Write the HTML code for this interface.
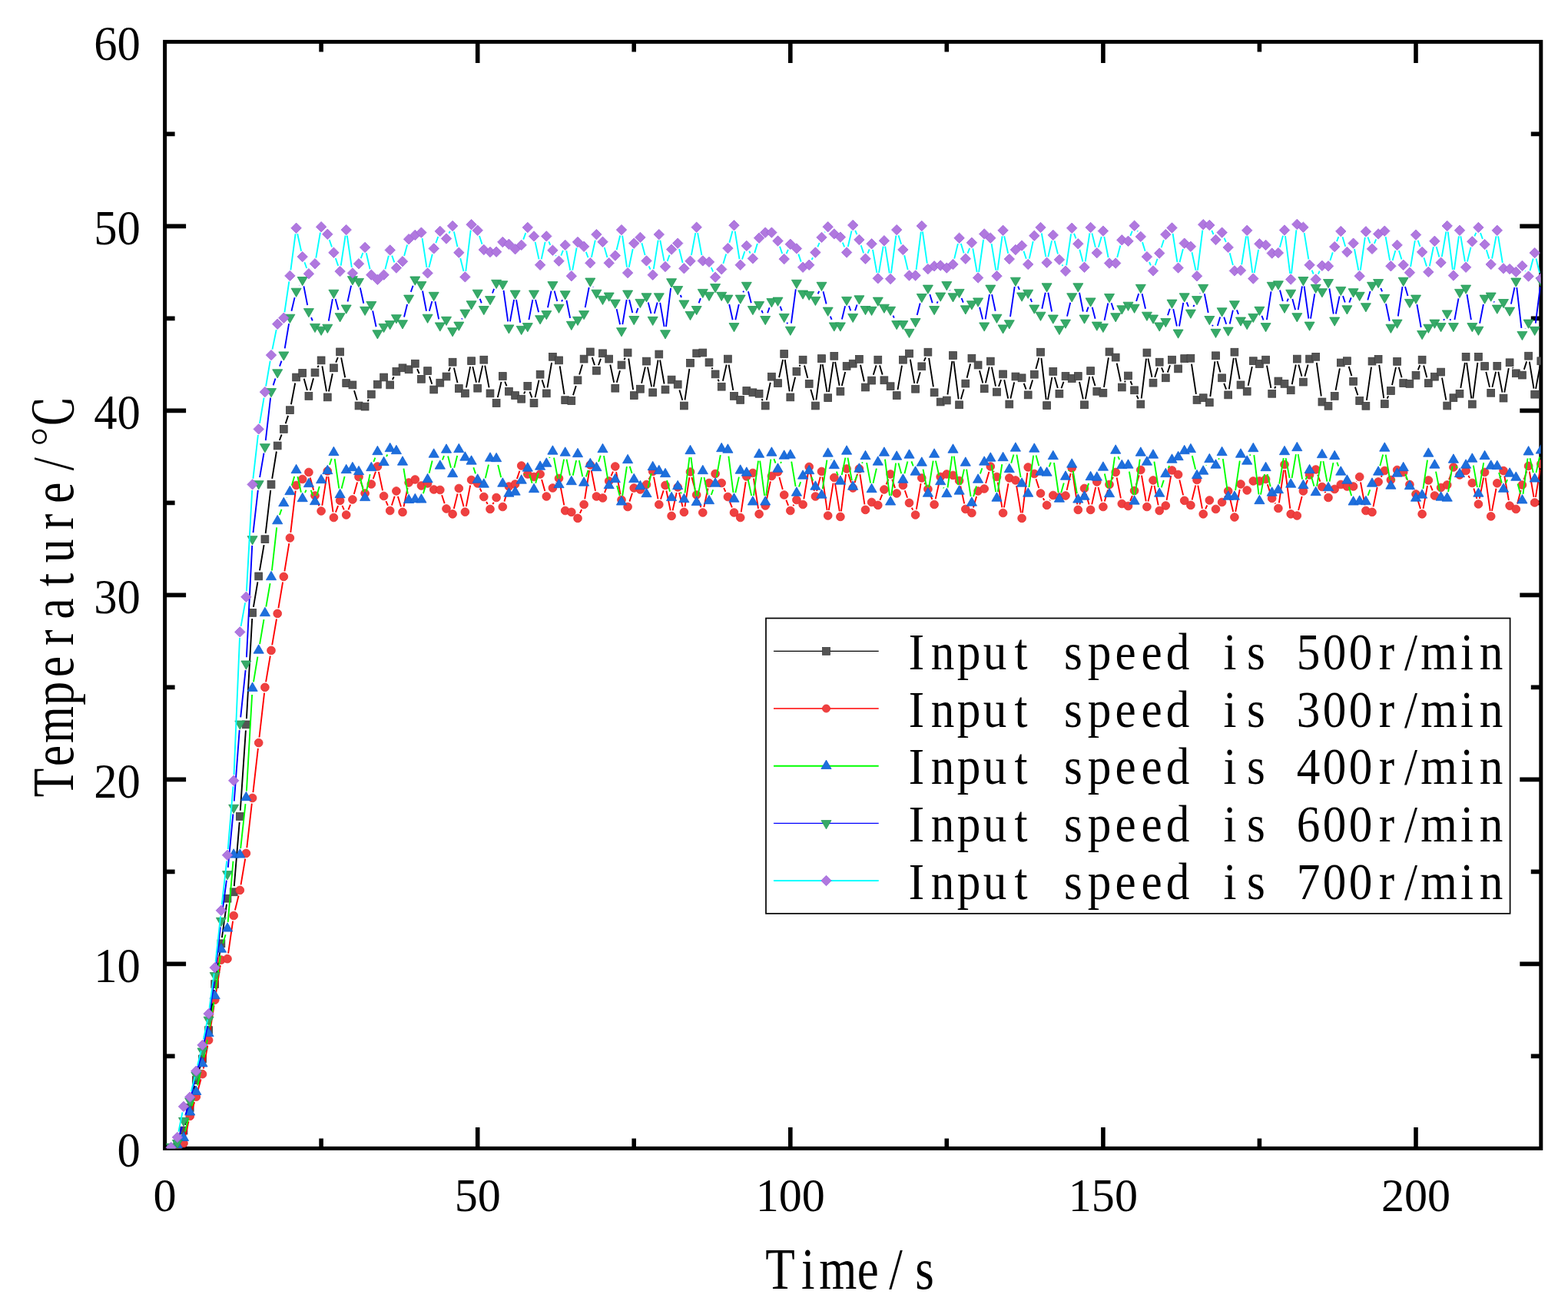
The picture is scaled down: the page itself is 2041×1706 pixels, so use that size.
<!DOCTYPE html>
<html><head><meta charset="utf-8"><title>Temperature vs Time</title>
<style>html,body{margin:0;padding:0;background:#fff;}svg{display:block;}</style>
</head><body>
<svg width="2041" height="1706" viewBox="0 0 2041 1706"><rect x="214.6" y="54.4" width="1791.2" height="1440.0" fill="none" stroke="#000" stroke-width="5"/>
<path d="M418.1 1494.4V1481.4M418.1 54.40000000000009V67.40000000000009M621.7 1494.4V1466.9M621.7 54.40000000000009V81.90000000000009M825.2 1494.4V1481.4M825.2 54.40000000000009V67.40000000000009M1028.8 1494.4V1466.9M1028.8 54.40000000000009V81.90000000000009M1232.3 1494.4V1481.4M1232.3 54.40000000000009V67.40000000000009M1435.9 1494.4V1466.9M1435.9 54.40000000000009V81.90000000000009M1639.4 1494.4V1481.4M1639.4 54.40000000000009V67.40000000000009M1843.0 1494.4V1466.9M1843.0 54.40000000000009V81.90000000000009M214.6 1374.4H227.6M2005.8 1374.4H1992.8M214.6 1254.4H242.1M2005.8 1254.4H1978.3M214.6 1134.4H227.6M2005.8 1134.4H1992.8M214.6 1014.4H242.1M2005.8 1014.4H1978.3M214.6 894.4H227.6M2005.8 894.4H1992.8M214.6 774.4H242.1M2005.8 774.4H1978.3M214.6 654.4H227.6M2005.8 654.4H1992.8M214.6 534.4H242.1M2005.8 534.4H1978.3M214.6 414.4H227.6M2005.8 414.4H1992.8M214.6 294.4H242.1M2005.8 294.4H1978.3M214.6 174.4H227.6M2005.8 174.4H1992.8" stroke="#000" stroke-width="5.6" fill="none"/>
<defs><clipPath id="pc"><rect x="214.6" y="54.5" width="1791" height="1440"/></clipPath></defs>
<g clip-path="url(#pc)">
<path d="M233.9 1482.6L236.0 1478.1M241.0 1463.8L245.1 1448.9M248.8 1434.2L253.6 1413.0M257.5 1398.3L261.3 1385.3M265.1 1370.6L270.0 1348.0M272.6 1333.0L278.7 1288.1M280.9 1273.0L286.7 1235.3M288.9 1220.2L295.0 1176.7M304.8 1153.2L311.7 1070.0M312.8 1054.8L319.9 950.5M320.9 935.3L328.2 805.0M329.9 789.9L335.4 757.4M338.0 742.4L343.6 709.2M345.7 694.1L352.2 638.0M354.2 622.9L359.9 587.5M363.8 572.9L366.6 565.5M371.7 551.2L375.1 540.9M378.9 526.2L384.2 498.5M395.7 492.7L399.9 508.1M403.8 508.0L408.0 492.3M413.5 478.1L414.7 475.7M419.4 476.4L425.0 509.4M427.9 509.5L432.8 486.2M437.2 471.7L439.8 465.0M444.1 465.4L449.2 491.2M461.0 508.2L464.8 520.8M478.6 522.3L479.8 519.9M487.3 506.7L487.4 506.6M510.9 494.0L512.7 490.3M543.1 480.2L545.6 486.2M559.0 489.8L562.3 499.8M584.0 483.0L586.1 478.2M590.9 478.6L595.5 498.1M606.9 504.4L612.1 477.1M615.3 477.1L620.0 497.8M623.3 497.7L628.2 475.6M631.2 475.6L636.6 504.4M647.8 517.1L652.5 496.9M657.2 496.5L659.5 502.3M682.0 512.3L683.5 509.3M689.5 509.6L692.4 517.4M696.6 517.1L701.5 494.6M705.5 494.4L708.9 504.7M712.5 504.4L718.1 471.8M728.7 476.4L734.5 513.2M746.0 514.2L749.8 502.1M754.1 487.5L758.0 474.4M770.7 465.1L774.0 475.1M779.0 475.2L782.0 466.9M794.3 474.5L799.2 497.7M802.8 497.8L807.0 482.3M812.4 468.2L813.7 465.8M818.2 466.5L824.1 507.1M835.1 498.8L839.9 477.5M843.0 477.6L848.2 503.4M850.9 503.3L856.6 468.5M859.1 468.5L864.6 499.5M870.0 500.6L870.1 500.5M884.4 507.4L888.3 520.7M891.5 520.5L897.4 479.8M926.5 478.4L927.5 480.2M934.5 493.7L935.8 496.4M940.9 495.8L945.7 474.5M948.6 474.6L954.3 507.9M991.6 519.1L992.7 521.3M997.8 520.6L1002.8 497.7M1014.1 491.2L1019.1 468.0M1021.7 468.0L1027.7 509.4M1030.6 509.5L1035.1 490.8M1040.5 476.7L1041.5 474.9M1047.0 475.5L1051.3 492.0M1055.3 506.7L1059.3 520.7M1062.4 520.5L1068.5 474.2M1070.7 474.1L1076.5 510.2M1078.8 510.2L1084.7 470.8M1087.1 470.8L1092.6 501.8M1095.8 501.9L1100.2 483.9M1120.0 474.8L1124.9 496.5M1136.8 487.8L1140.6 475.4M1145.0 475.4L1148.7 487.6M1168.5 507.1L1174.0 475.6M1184.8 467.6L1190.3 498.8M1193.7 498.9L1197.8 484.2M1202.8 469.9L1204.9 465.2M1209.1 465.8L1214.9 503.3M1233.4 513.5L1239.4 470.0M1241.4 470.1L1247.7 519.3M1250.8 519.5L1254.6 506.4M1258.6 491.7L1263.1 473.5M1275.0 482.3L1279.3 498.4M1282.9 498.4L1287.7 477.5M1290.9 477.6L1296.0 502.6M1300.0 502.9L1303.1 494.1M1307.2 494.3L1312.2 518.6M1315.4 518.6L1320.2 497.4M1332.7 498.9L1335.6 506.7M1340.4 506.6L1344.1 494.5M1348.4 479.9L1352.4 465.6M1355.4 465.8L1361.7 520.0M1364.0 520.1L1369.4 490.9M1372.8 490.7L1376.8 505.0M1381.5 505.2L1384.5 496.7M1405.0 496.9L1409.9 519.4M1412.9 519.3L1418.2 490.1M1421.8 489.9L1425.5 502.0M1437.0 503.8L1442.9 465.4M1453.7 472.6L1458.8 496.5M1464.0 497.3L1464.8 495.7M1471.5 496.0L1473.6 500.8M1479.7 514.7L1481.7 519.1M1485.7 518.5L1492.0 466.6M1494.4 466.5L1499.5 490.7M1503.2 490.9L1507.0 478.5M1512.0 478.3L1514.5 484.7M1519.8 484.6L1523.0 475.3M1537.6 473.4L1537.8 473.1M1551.0 473.7L1556.9 512.9M1575.3 516.2L1581.4 470.4M1584.5 470.1L1588.5 484.5M1593.2 498.9L1596.1 506.7M1599.8 506.3L1605.8 465.8M1608.3 465.7L1613.6 493.5M1624.7 501.9L1629.8 477.1M1649.0 475.6L1654.4 504.9M1659.1 505.5L1660.5 502.8M1681.7 500.3L1686.8 474.5M1690.3 474.4L1694.5 489.8M1698.4 489.8L1702.6 474.4M1713.8 471.9L1719.8 515.5M1733.1 521.9L1733.1 521.8M1738.6 507.9L1743.9 479.4M1755.7 476.9L1759.4 489.1M1763.9 503.6L1767.4 514.3M1778.9 520.8L1785.0 477.7M1795.2 474.9L1801.2 518.1M1805.6 518.7L1807.2 515.4M1812.0 501.1L1817.0 477.9M1820.7 477.7L1824.6 491.3M1845.8 481.4L1848.3 475.2M1853.1 475.5L1857.3 491.3M1877.0 491.6L1882.3 520.6M1901.3 504.9L1906.9 471.8M1909.1 471.9L1915.3 518.5M1917.3 518.5L1923.4 471.9M1934.3 483.9L1939.0 503.9M1942.4 503.9L1947.1 483.7M1950.3 483.8L1955.5 510.6M1958.3 510.6L1963.8 479.2M1968.9 478.3L1969.5 479.2M1983.8 480.9L1987.2 470.4M1990.8 470.7L1996.5 505.7M1999.1 505.8L2004.4 477.2" stroke="#000000" stroke-width="1.9" fill="none"/>
<g fill="#545454" stroke="#3c3c3c" stroke-width="0.8"><rect x="217.8" y="1489.5" width="9.8" height="9.8" /><rect x="226.0" y="1484.7" width="9.8" height="9.8" /><rect x="234.1" y="1466.2" width="9.8" height="9.8" /><rect x="242.3" y="1436.7" width="9.8" height="9.8" /><rect x="250.4" y="1400.7" width="9.8" height="9.8" /><rect x="258.6" y="1373.1" width="9.8" height="9.8" /><rect x="266.7" y="1335.7" width="9.8" height="9.8" /><rect x="274.8" y="1275.7" width="9.8" height="9.8" /><rect x="283.0" y="1222.9" width="9.8" height="9.8" /><rect x="291.1" y="1164.3" width="9.8" height="9.8" /><rect x="299.3" y="1155.9" width="9.8" height="9.8" /><rect x="307.4" y="1057.5" width="9.8" height="9.8" /><rect x="315.5" y="938.0" width="9.8" height="9.8" /><rect x="323.7" y="792.5" width="9.8" height="9.8" /><rect x="331.8" y="745.0" width="9.8" height="9.8" /><rect x="340.0" y="696.8" width="9.8" height="9.8" /><rect x="348.1" y="625.5" width="9.8" height="9.8" /><rect x="356.3" y="575.1" width="9.8" height="9.8" /><rect x="364.4" y="553.5" width="9.8" height="9.8" /><rect x="372.5" y="528.8" width="9.8" height="9.8" /><rect x="380.7" y="486.1" width="9.8" height="9.8" /><rect x="388.8" y="480.5" width="9.8" height="9.8" /><rect x="397.0" y="510.5" width="9.8" height="9.8" /><rect x="405.1" y="480.0" width="9.8" height="9.8" /><rect x="413.2" y="464.0" width="9.8" height="9.8" /><rect x="421.4" y="512.0" width="9.8" height="9.8" /><rect x="429.5" y="473.9" width="9.8" height="9.8" /><rect x="437.7" y="453.0" width="9.8" height="9.8" /><rect x="445.8" y="493.7" width="9.8" height="9.8" /><rect x="454.0" y="496.0" width="9.8" height="9.8" /><rect x="462.1" y="523.1" width="9.8" height="9.8" /><rect x="470.2" y="524.2" width="9.8" height="9.8" /><rect x="478.4" y="508.2" width="9.8" height="9.8" /><rect x="486.5" y="495.3" width="9.8" height="9.8" /><rect x="494.7" y="486.1" width="9.8" height="9.8" /><rect x="502.8" y="496.0" width="9.8" height="9.8" /><rect x="511.0" y="478.5" width="9.8" height="9.8" /><rect x="519.1" y="473.9" width="9.8" height="9.8" /><rect x="527.2" y="475.9" width="9.8" height="9.8" /><rect x="535.4" y="468.3" width="9.8" height="9.8" /><rect x="543.5" y="488.4" width="9.8" height="9.8" /><rect x="551.7" y="477.7" width="9.8" height="9.8" /><rect x="559.8" y="502.1" width="9.8" height="9.8" /><rect x="567.9" y="493.3" width="9.8" height="9.8" /><rect x="576.1" y="485.1" width="9.8" height="9.8" /><rect x="584.2" y="466.3" width="9.8" height="9.8" /><rect x="592.4" y="500.6" width="9.8" height="9.8" /><rect x="600.5" y="507.0" width="9.8" height="9.8" /><rect x="608.7" y="464.8" width="9.8" height="9.8" /><rect x="616.8" y="500.3" width="9.8" height="9.8" /><rect x="624.9" y="463.3" width="9.8" height="9.8" /><rect x="633.1" y="507.0" width="9.8" height="9.8" /><rect x="641.2" y="519.6" width="9.8" height="9.8" /><rect x="649.4" y="484.6" width="9.8" height="9.8" /><rect x="657.5" y="504.4" width="9.8" height="9.8" /><rect x="665.7" y="509.7" width="9.8" height="9.8" /><rect x="673.8" y="514.3" width="9.8" height="9.8" /><rect x="681.9" y="497.5" width="9.8" height="9.8" /><rect x="690.1" y="519.6" width="9.8" height="9.8" /><rect x="698.2" y="482.3" width="9.8" height="9.8" /><rect x="706.4" y="507.0" width="9.8" height="9.8" /><rect x="714.5" y="459.4" width="9.8" height="9.8" /><rect x="722.6" y="464.0" width="9.8" height="9.8" /><rect x="730.8" y="515.8" width="9.8" height="9.8" /><rect x="738.9" y="516.6" width="9.8" height="9.8" /><rect x="747.1" y="489.9" width="9.8" height="9.8" /><rect x="755.2" y="462.2" width="9.8" height="9.8" /><rect x="763.4" y="453.0" width="9.8" height="9.8" /><rect x="771.5" y="477.4" width="9.8" height="9.8" /><rect x="779.6" y="454.9" width="9.8" height="9.8" /><rect x="787.8" y="462.2" width="9.8" height="9.8" /><rect x="795.9" y="500.3" width="9.8" height="9.8" /><rect x="804.1" y="470.1" width="9.8" height="9.8" /><rect x="812.2" y="454.1" width="9.8" height="9.8" /><rect x="820.4" y="509.7" width="9.8" height="9.8" /><rect x="828.5" y="501.3" width="9.8" height="9.8" /><rect x="836.6" y="465.2" width="9.8" height="9.8" /><rect x="844.8" y="505.9" width="9.8" height="9.8" /><rect x="852.9" y="456.1" width="9.8" height="9.8" /><rect x="861.1" y="502.1" width="9.8" height="9.8" /><rect x="869.2" y="489.2" width="9.8" height="9.8" /><rect x="877.3" y="495.3" width="9.8" height="9.8" /><rect x="885.5" y="523.1" width="9.8" height="9.8" /><rect x="893.6" y="467.4" width="9.8" height="9.8" /><rect x="901.8" y="454.9" width="9.8" height="9.8" /><rect x="909.9" y="454.1" width="9.8" height="9.8" /><rect x="918.1" y="466.8" width="9.8" height="9.8" /><rect x="926.2" y="482.0" width="9.8" height="9.8" /><rect x="934.3" y="498.3" width="9.8" height="9.8" /><rect x="942.5" y="462.2" width="9.8" height="9.8" /><rect x="950.6" y="510.5" width="9.8" height="9.8" /><rect x="958.8" y="515.5" width="9.8" height="9.8" /><rect x="966.9" y="503.6" width="9.8" height="9.8" /><rect x="975.0" y="505.9" width="9.8" height="9.8" /><rect x="983.2" y="507.4" width="9.8" height="9.8" /><rect x="991.3" y="523.1" width="9.8" height="9.8" /><rect x="999.5" y="485.3" width="9.8" height="9.8" /><rect x="1007.6" y="493.7" width="9.8" height="9.8" /><rect x="1015.8" y="455.6" width="9.8" height="9.8" /><rect x="1023.9" y="512.0" width="9.8" height="9.8" /><rect x="1032.0" y="478.5" width="9.8" height="9.8" /><rect x="1040.2" y="463.3" width="9.8" height="9.8" /><rect x="1048.3" y="494.5" width="9.8" height="9.8" /><rect x="1056.5" y="523.1" width="9.8" height="9.8" /><rect x="1064.6" y="461.7" width="9.8" height="9.8" /><rect x="1072.8" y="512.8" width="9.8" height="9.8" /><rect x="1080.9" y="458.4" width="9.8" height="9.8" /><rect x="1089.0" y="504.4" width="9.8" height="9.8" /><rect x="1097.2" y="471.6" width="9.8" height="9.8" /><rect x="1105.3" y="468.3" width="9.8" height="9.8" /><rect x="1113.5" y="462.5" width="9.8" height="9.8" /><rect x="1121.6" y="499.1" width="9.8" height="9.8" /><rect x="1129.7" y="490.2" width="9.8" height="9.8" /><rect x="1137.9" y="463.3" width="9.8" height="9.8" /><rect x="1146.0" y="489.9" width="9.8" height="9.8" /><rect x="1154.2" y="497.8" width="9.8" height="9.8" /><rect x="1162.3" y="509.7" width="9.8" height="9.8" /><rect x="1170.5" y="463.3" width="9.8" height="9.8" /><rect x="1178.6" y="455.2" width="9.8" height="9.8" /><rect x="1186.7" y="501.3" width="9.8" height="9.8" /><rect x="1194.9" y="471.9" width="9.8" height="9.8" /><rect x="1203.0" y="453.3" width="9.8" height="9.8" /><rect x="1211.2" y="505.9" width="9.8" height="9.8" /><rect x="1219.3" y="518.1" width="9.8" height="9.8" /><rect x="1227.4" y="516.1" width="9.8" height="9.8" /><rect x="1235.6" y="457.6" width="9.8" height="9.8" /><rect x="1243.7" y="521.9" width="9.8" height="9.8" /><rect x="1251.9" y="494.2" width="9.8" height="9.8" /><rect x="1260.0" y="461.3" width="9.8" height="9.8" /><rect x="1268.2" y="470.1" width="9.8" height="9.8" /><rect x="1276.3" y="500.9" width="9.8" height="9.8" /><rect x="1284.4" y="465.2" width="9.8" height="9.8" /><rect x="1292.6" y="505.2" width="9.8" height="9.8" /><rect x="1300.7" y="482.0" width="9.8" height="9.8" /><rect x="1308.9" y="521.1" width="9.8" height="9.8" /><rect x="1317.0" y="485.1" width="9.8" height="9.8" /><rect x="1325.2" y="486.9" width="9.8" height="9.8" /><rect x="1333.3" y="509.0" width="9.8" height="9.8" /><rect x="1341.4" y="482.3" width="9.8" height="9.8" /><rect x="1349.6" y="453.3" width="9.8" height="9.8" /><rect x="1357.7" y="522.7" width="9.8" height="9.8" /><rect x="1365.9" y="478.5" width="9.8" height="9.8" /><rect x="1374.0" y="507.4" width="9.8" height="9.8" /><rect x="1382.1" y="484.6" width="9.8" height="9.8" /><rect x="1390.3" y="487.6" width="9.8" height="9.8" /><rect x="1398.4" y="484.6" width="9.8" height="9.8" /><rect x="1406.6" y="521.9" width="9.8" height="9.8" /><rect x="1414.7" y="477.7" width="9.8" height="9.8" /><rect x="1422.9" y="504.4" width="9.8" height="9.8" /><rect x="1431.0" y="506.4" width="9.8" height="9.8" /><rect x="1439.1" y="453.0" width="9.8" height="9.8" /><rect x="1447.3" y="460.2" width="9.8" height="9.8" /><rect x="1455.4" y="499.1" width="9.8" height="9.8" /><rect x="1463.6" y="484.1" width="9.8" height="9.8" /><rect x="1471.7" y="502.9" width="9.8" height="9.8" /><rect x="1479.9" y="521.1" width="9.8" height="9.8" /><rect x="1488.0" y="454.1" width="9.8" height="9.8" /><rect x="1496.1" y="493.3" width="9.8" height="9.8" /><rect x="1504.3" y="466.3" width="9.8" height="9.8" /><rect x="1512.4" y="486.9" width="9.8" height="9.8" /><rect x="1520.6" y="463.3" width="9.8" height="9.8" /><rect x="1528.7" y="475.0" width="9.8" height="9.8" /><rect x="1536.8" y="461.7" width="9.8" height="9.8" /><rect x="1545.0" y="461.3" width="9.8" height="9.8" /><rect x="1553.1" y="515.5" width="9.8" height="9.8" /><rect x="1561.3" y="512.8" width="9.8" height="9.8" /><rect x="1569.4" y="518.9" width="9.8" height="9.8" /><rect x="1577.6" y="457.9" width="9.8" height="9.8" /><rect x="1585.7" y="486.9" width="9.8" height="9.8" /><rect x="1593.8" y="509.0" width="9.8" height="9.8" /><rect x="1602.0" y="453.3" width="9.8" height="9.8" /><rect x="1610.1" y="496.0" width="9.8" height="9.8" /><rect x="1618.3" y="504.4" width="9.8" height="9.8" /><rect x="1626.4" y="464.8" width="9.8" height="9.8" /><rect x="1634.5" y="468.6" width="9.8" height="9.8" /><rect x="1642.7" y="463.3" width="9.8" height="9.8" /><rect x="1650.8" y="507.4" width="9.8" height="9.8" /><rect x="1659.0" y="491.1" width="9.8" height="9.8" /><rect x="1667.1" y="494.5" width="9.8" height="9.8" /><rect x="1675.3" y="502.9" width="9.8" height="9.8" /><rect x="1683.4" y="462.2" width="9.8" height="9.8" /><rect x="1691.5" y="492.2" width="9.8" height="9.8" /><rect x="1699.7" y="462.2" width="9.8" height="9.8" /><rect x="1707.8" y="459.4" width="9.8" height="9.8" /><rect x="1716.0" y="518.1" width="9.8" height="9.8" /><rect x="1724.1" y="523.4" width="9.8" height="9.8" /><rect x="1732.3" y="510.5" width="9.8" height="9.8" /><rect x="1740.4" y="467.1" width="9.8" height="9.8" /><rect x="1748.5" y="464.8" width="9.8" height="9.8" /><rect x="1756.7" y="491.4" width="9.8" height="9.8" /><rect x="1764.8" y="516.6" width="9.8" height="9.8" /><rect x="1773.0" y="523.4" width="9.8" height="9.8" /><rect x="1781.1" y="465.2" width="9.8" height="9.8" /><rect x="1789.2" y="462.5" width="9.8" height="9.8" /><rect x="1797.4" y="520.7" width="9.8" height="9.8" /><rect x="1805.5" y="503.6" width="9.8" height="9.8" /><rect x="1813.7" y="465.5" width="9.8" height="9.8" /><rect x="1821.8" y="493.7" width="9.8" height="9.8" /><rect x="1830.0" y="494.5" width="9.8" height="9.8" /><rect x="1838.1" y="483.5" width="9.8" height="9.8" /><rect x="1846.2" y="463.3" width="9.8" height="9.8" /><rect x="1854.4" y="493.7" width="9.8" height="9.8" /><rect x="1862.5" y="485.3" width="9.8" height="9.8" /><rect x="1870.7" y="479.2" width="9.8" height="9.8" /><rect x="1878.8" y="523.1" width="9.8" height="9.8" /><rect x="1887.0" y="512.8" width="9.8" height="9.8" /><rect x="1895.1" y="507.4" width="9.8" height="9.8" /><rect x="1903.2" y="459.4" width="9.8" height="9.8" /><rect x="1911.4" y="521.1" width="9.8" height="9.8" /><rect x="1919.5" y="459.4" width="9.8" height="9.8" /><rect x="1927.7" y="471.6" width="9.8" height="9.8" /><rect x="1935.8" y="506.4" width="9.8" height="9.8" /><rect x="1943.9" y="471.4" width="9.8" height="9.8" /><rect x="1952.1" y="513.2" width="9.8" height="9.8" /><rect x="1960.2" y="466.9" width="9.8" height="9.8" /><rect x="1968.4" y="480.9" width="9.8" height="9.8" /><rect x="1976.5" y="483.2" width="9.8" height="9.8" /><rect x="1984.7" y="458.3" width="9.8" height="9.8" /><rect x="1992.8" y="508.3" width="9.8" height="9.8" /><rect x="2000.9" y="464.9" width="9.8" height="9.8" /></g>
<path d="M240.6 1480.7L245.5 1459.4M249.4 1445.5L253.1 1434.1M257.2 1420.3L261.5 1404.6M264.8 1390.6L270.3 1360.6M272.7 1346.4L278.6 1308.3M280.8 1294.1L286.8 1256.2M297.1 1240.6L303.1 1198.6M305.9 1184.5L310.6 1165.4M313.5 1151.3L319.2 1117.5M321.3 1103.2L327.8 1045.6M329.4 1031.2L335.9 973.8M337.5 959.5L344.1 901.6M346.1 887.3L351.8 853.5M354.2 839.3L360.0 805.5M362.4 791.3L368.1 757.5M370.4 743.3L376.3 707.1M378.3 692.9L384.7 638.6M403.7 621.4L408.2 638.0M412.7 651.6L415.4 658.3M419.3 657.8L425.2 620.1M427.3 620.1L433.5 666.3M436.9 666.7L440.1 658.2M445.5 658.0L447.8 663.4M453.4 663.3L456.1 656.6M460.8 643.0L465.1 627.4M469.6 627.2L472.6 635.2M479.2 636.0L479.2 635.9M485.7 623.2L489.0 613.8M492.9 614.0L498.1 638.4M502.4 652.1L504.9 657.8M509.9 657.6L513.7 645.8M517.9 645.9L522.0 659.5M525.5 659.4L530.6 635.0M575.1 644.3L578.7 655.1M590.8 661.9L595.6 642.5M599.1 642.4L603.6 659.2M606.8 659.1L612.2 631.5M624.7 635.5L626.8 639.9M633.1 652.9L634.7 656.0M641.4 656.1L642.7 653.8M650.2 653.4L650.2 653.5M656.4 652.6L660.3 639.9M672.9 623.1L676.4 612.8M705.1 623.9L709.3 639.0M723.3 628.9L723.6 628.5M728.9 629.5L734.3 657.4M754.9 667.9L757.1 663.0M761.2 649.4L767.1 612.1M769.7 612.0L775.0 638.9M787.0 641.2L790.2 632.7M795.5 619.3L798.0 613.6M802.1 614.1L807.6 643.4M819.4 652.6L823.0 641.8M844.6 624.0L846.6 620.0M851.0 620.6L856.5 649.4M860.0 649.6L863.7 638.3M867.4 638.5L872.7 664.4M875.6 664.4L880.7 641.0M884.0 641.0L888.6 659.5M891.5 659.3L897.4 621.1M900.4 620.9L904.8 637.0M909.1 650.7L912.4 660.2M916.3 659.9L921.5 635.5M927.0 622.5L927.1 622.4M935.1 622.4L935.2 622.5M942.2 635.0L944.4 639.9M950.0 653.1L952.9 660.3M964.7 666.3L970.7 627.1M981.0 622.6L987.0 661.8M997.7 650.9L1002.9 626.5M1014.4 620.9L1018.8 637.0M1023.3 650.7L1026.1 657.8M1032.4 658.2L1033.3 656.7M1046.3 649.4L1052.0 614.6M1054.7 614.5L1059.9 638.9M1063.1 639.0L1067.8 620.5M1070.5 620.6L1076.6 663.8M1078.8 663.9L1084.6 628.6M1086.9 628.6L1092.8 665.3M1094.9 665.3L1101.1 617.1M1104.3 616.8L1108.0 628.1M1112.5 628.1L1116.1 616.8M1119.4 617.1L1125.4 656.3M1145.4 650.8L1148.3 643.7M1153.6 630.3L1156.4 623.7M1161.3 623.8L1165.0 635.1M1177.8 638.2L1181.1 647.7M1186.8 660.8L1188.3 663.6M1192.8 662.9L1198.6 629.1M1203.3 628.3L1204.4 630.2M1210.6 643.1L1213.4 649.8M1217.7 649.4L1222.6 627.5M1250.2 632.5L1255.2 655.4M1266.9 660.5L1271.1 645.9M1283.1 629.0L1287.4 613.9M1293.1 613.1L1293.8 614.3M1298.7 627.6L1304.4 660.4M1306.9 660.4L1312.5 629.1M1323.1 632.1L1328.9 667.3M1330.9 667.3L1337.3 615.1M1348.5 623.3L1352.3 635.1M1357.8 648.3L1359.3 651.1M1366.4 651.3L1366.9 650.6M1388.6 637.9L1393.6 616.0M1396.3 616.1L1402.3 656.3M1405.3 656.5L1409.5 642.4M1413.5 642.4L1417.6 656.5M1421.2 656.4L1426.2 634.0M1429.5 634.0L1434.2 652.5M1437.8 652.5L1442.1 637.4M1447.3 624.1L1448.9 620.9M1453.6 621.5L1458.9 648.4M1471.2 651.8L1473.9 645.1M1478.7 631.6L1482.7 618.4M1486.0 618.6L1491.7 652.4M1494.5 652.5L1499.4 632.0M1502.5 632.0L1507.7 657.4M1518.6 650.9L1524.2 619.1M1535.3 624.5L1540.1 644.4M1551.6 650.5L1556.3 631.5M1559.3 631.6L1564.9 661.9M1569.1 662.4L1571.3 657.5M1594.1 647.2L1595.2 645.2M1600.4 646.0L1605.2 666.0M1608.2 665.9L1613.7 637.0M1627.2 632.0L1627.3 631.9M1649.8 630.3L1653.5 641.6M1659.6 654.6L1660.1 655.4M1664.9 654.3L1671.0 611.6M1672.9 611.6L1679.3 661.8M1690.1 664.0L1694.7 645.9M1699.0 632.3L1702.0 624.7M1715.2 617.8L1718.4 626.7M1724.5 639.7L1725.4 641.2M1765.5 626.9L1765.8 626.5M1771.0 627.5L1776.6 657.4M1787.5 659.4L1792.7 634.0M1797.7 620.7L1798.8 618.7M1806.3 618.4L1806.4 618.5M1814.3 618.4L1814.7 617.6M1830.0 620.9L1831.6 624.1M1838.8 636.5L1839.1 636.9M1845.2 649.8L1849.0 662.1M1852.5 661.9L1858.0 632.1M1862.0 631.6L1864.7 638.3M1886.1 624.2L1889.4 614.8M1911.4 618.9L1913.0 622.1M1918.3 635.4L1922.4 649.1M1925.8 648.9L1931.2 621.5M1933.6 621.6L1939.7 664.8M1942.0 664.9L1947.5 635.8M1952.1 622.3L1953.7 619.1M1958.3 619.7L1963.9 651.0M1975.1 655.5L1979.6 637.9M1983.7 624.1L1987.3 613.2M1990.8 613.5L1996.5 646.9M1998.9 646.9L2004.7 610.9" stroke="#ff0000" stroke-width="1.9" fill="none"/>
<g fill="#ee4040" stroke="#ea2a2a" stroke-width="0.8"><circle cx="222.7" cy="1494.4" r="5.35" /><circle cx="230.9" cy="1494.4" r="5.35" /><circle cx="239.0" cy="1487.7" r="5.35" /><circle cx="247.2" cy="1452.4" r="5.35" /><circle cx="255.3" cy="1427.2" r="5.35" /><circle cx="263.5" cy="1397.7" r="5.35" /><circle cx="271.6" cy="1353.5" r="5.35" /><circle cx="279.7" cy="1301.2" r="5.35" /><circle cx="287.9" cy="1249.1" r="5.35" /><circle cx="296.0" cy="1247.7" r="5.35" /><circle cx="304.2" cy="1191.5" r="5.35" /><circle cx="312.3" cy="1158.4" r="5.35" /><circle cx="320.4" cy="1110.4" r="5.35" /><circle cx="328.6" cy="1038.4" r="5.35" /><circle cx="336.7" cy="966.6" r="5.35" /><circle cx="344.9" cy="894.4" r="5.35" /><circle cx="353.0" cy="846.4" r="5.35" /><circle cx="361.2" cy="798.4" r="5.35" /><circle cx="369.3" cy="750.4" r="5.35" /><circle cx="377.4" cy="700.0" r="5.35" /><circle cx="385.6" cy="631.5" r="5.35" /><circle cx="393.7" cy="623.5" r="5.35" /><circle cx="401.9" cy="614.5" r="5.35" /><circle cx="410.0" cy="645.0" r="5.35" /><circle cx="418.1" cy="665.0" r="5.35" /><circle cx="426.3" cy="613.0" r="5.35" /><circle cx="434.4" cy="673.5" r="5.35" /><circle cx="442.6" cy="651.4" r="5.35" /><circle cx="450.7" cy="670.0" r="5.35" /><circle cx="458.9" cy="650.0" r="5.35" /><circle cx="467.0" cy="620.5" r="5.35" /><circle cx="475.1" cy="642.0" r="5.35" /><circle cx="483.3" cy="630.0" r="5.35" /><circle cx="491.4" cy="607.0" r="5.35" /><circle cx="499.6" cy="645.5" r="5.35" /><circle cx="507.7" cy="664.5" r="5.35" /><circle cx="515.9" cy="639.0" r="5.35" /><circle cx="524.0" cy="666.4" r="5.35" /><circle cx="532.1" cy="628.0" r="5.35" /><circle cx="540.3" cy="624.0" r="5.35" /><circle cx="548.4" cy="632.0" r="5.35" /><circle cx="556.6" cy="629.0" r="5.35" /><circle cx="564.7" cy="637.0" r="5.35" /><circle cx="572.8" cy="637.5" r="5.35" /><circle cx="581.0" cy="662.0" r="5.35" /><circle cx="589.1" cy="668.9" r="5.35" /><circle cx="597.3" cy="635.5" r="5.35" /><circle cx="605.4" cy="666.2" r="5.35" /><circle cx="613.6" cy="624.5" r="5.35" /><circle cx="621.7" cy="629.0" r="5.35" /><circle cx="629.8" cy="646.5" r="5.35" /><circle cx="638.0" cy="662.5" r="5.35" /><circle cx="646.1" cy="647.5" r="5.35" /><circle cx="654.3" cy="659.5" r="5.35" /><circle cx="662.4" cy="633.0" r="5.35" /><circle cx="670.6" cy="630.0" r="5.35" /><circle cx="678.7" cy="606.0" r="5.35" /><circle cx="686.8" cy="617.0" r="5.35" /><circle cx="695.0" cy="620.5" r="5.35" /><circle cx="703.1" cy="617.0" r="5.35" /><circle cx="711.3" cy="646.0" r="5.35" /><circle cx="719.4" cy="635.0" r="5.35" /><circle cx="727.5" cy="622.5" r="5.35" /><circle cx="735.7" cy="664.5" r="5.35" /><circle cx="743.8" cy="666.4" r="5.35" /><circle cx="752.0" cy="674.4" r="5.35" /><circle cx="760.1" cy="656.5" r="5.35" /><circle cx="768.3" cy="605.0" r="5.35" /><circle cx="776.4" cy="646.0" r="5.35" /><circle cx="784.5" cy="648.0" r="5.35" /><circle cx="792.7" cy="626.0" r="5.35" /><circle cx="800.8" cy="607.0" r="5.35" /><circle cx="809.0" cy="650.5" r="5.35" /><circle cx="817.1" cy="659.5" r="5.35" /><circle cx="825.2" cy="635.0" r="5.35" /><circle cx="833.4" cy="637.0" r="5.35" /><circle cx="841.5" cy="630.5" r="5.35" /><circle cx="849.7" cy="613.5" r="5.35" /><circle cx="857.8" cy="656.5" r="5.35" /><circle cx="866.0" cy="631.5" r="5.35" /><circle cx="874.1" cy="671.4" r="5.35" /><circle cx="882.2" cy="634.0" r="5.35" /><circle cx="890.4" cy="666.4" r="5.35" /><circle cx="898.5" cy="614.0" r="5.35" /><circle cx="906.7" cy="644.0" r="5.35" /><circle cx="914.8" cy="667.0" r="5.35" /><circle cx="923.0" cy="628.5" r="5.35" /><circle cx="931.1" cy="616.5" r="5.35" /><circle cx="939.2" cy="628.5" r="5.35" /><circle cx="947.4" cy="646.5" r="5.35" /><circle cx="955.5" cy="667.0" r="5.35" /><circle cx="963.7" cy="673.5" r="5.35" /><circle cx="971.8" cy="620.0" r="5.35" /><circle cx="979.9" cy="615.5" r="5.35" /><circle cx="988.1" cy="668.9" r="5.35" /><circle cx="996.2" cy="658.0" r="5.35" /><circle cx="1004.4" cy="619.5" r="5.35" /><circle cx="1012.5" cy="614.0" r="5.35" /><circle cx="1020.7" cy="644.0" r="5.35" /><circle cx="1028.8" cy="664.5" r="5.35" /><circle cx="1036.9" cy="650.5" r="5.35" /><circle cx="1045.1" cy="656.5" r="5.35" /><circle cx="1053.2" cy="607.5" r="5.35" /><circle cx="1061.4" cy="646.0" r="5.35" /><circle cx="1069.5" cy="613.5" r="5.35" /><circle cx="1077.7" cy="671.0" r="5.35" /><circle cx="1085.8" cy="621.5" r="5.35" /><circle cx="1093.9" cy="672.4" r="5.35" /><circle cx="1102.1" cy="610.0" r="5.35" /><circle cx="1110.2" cy="635.0" r="5.35" /><circle cx="1118.4" cy="610.0" r="5.35" /><circle cx="1126.5" cy="663.4" r="5.35" /><circle cx="1134.6" cy="653.5" r="5.35" /><circle cx="1142.8" cy="657.4" r="5.35" /><circle cx="1150.9" cy="637.0" r="5.35" /><circle cx="1159.1" cy="617.0" r="5.35" /><circle cx="1167.2" cy="642.0" r="5.35" /><circle cx="1175.4" cy="631.5" r="5.35" /><circle cx="1183.5" cy="654.4" r="5.35" /><circle cx="1191.6" cy="670.0" r="5.35" /><circle cx="1199.8" cy="622.0" r="5.35" /><circle cx="1207.9" cy="636.5" r="5.35" /><circle cx="1216.1" cy="656.5" r="5.35" /><circle cx="1224.2" cy="620.5" r="5.35" /><circle cx="1232.3" cy="617.0" r="5.35" /><circle cx="1240.5" cy="618.5" r="5.35" /><circle cx="1248.6" cy="625.5" r="5.35" /><circle cx="1256.8" cy="662.5" r="5.35" /><circle cx="1264.9" cy="667.5" r="5.35" /><circle cx="1273.1" cy="639.0" r="5.35" /><circle cx="1281.2" cy="636.0" r="5.35" /><circle cx="1289.3" cy="607.0" r="5.35" /><circle cx="1297.5" cy="620.5" r="5.35" /><circle cx="1305.6" cy="667.5" r="5.35" /><circle cx="1313.8" cy="622.0" r="5.35" /><circle cx="1321.9" cy="625.0" r="5.35" /><circle cx="1330.1" cy="674.4" r="5.35" /><circle cx="1338.2" cy="608.0" r="5.35" /><circle cx="1346.3" cy="616.5" r="5.35" /><circle cx="1354.5" cy="642.0" r="5.35" /><circle cx="1362.6" cy="657.4" r="5.35" /><circle cx="1370.8" cy="644.5" r="5.35" /><circle cx="1378.9" cy="647.0" r="5.35" /><circle cx="1387.0" cy="645.0" r="5.35" /><circle cx="1395.2" cy="609.0" r="5.35" /><circle cx="1403.3" cy="663.4" r="5.35" /><circle cx="1411.5" cy="635.5" r="5.35" /><circle cx="1419.6" cy="663.4" r="5.35" /><circle cx="1427.8" cy="627.0" r="5.35" /><circle cx="1435.9" cy="659.5" r="5.35" /><circle cx="1444.0" cy="630.5" r="5.35" /><circle cx="1452.2" cy="614.5" r="5.35" /><circle cx="1460.3" cy="655.5" r="5.35" /><circle cx="1468.5" cy="658.5" r="5.35" /><circle cx="1476.6" cy="638.5" r="5.35" /><circle cx="1484.8" cy="611.5" r="5.35" /><circle cx="1492.9" cy="659.5" r="5.35" /><circle cx="1501.0" cy="625.0" r="5.35" /><circle cx="1509.2" cy="664.5" r="5.35" /><circle cx="1517.3" cy="658.0" r="5.35" /><circle cx="1525.5" cy="612.0" r="5.35" /><circle cx="1533.6" cy="617.5" r="5.35" /><circle cx="1541.7" cy="651.4" r="5.35" /><circle cx="1549.9" cy="657.4" r="5.35" /><circle cx="1558.0" cy="624.5" r="5.35" /><circle cx="1566.2" cy="668.9" r="5.35" /><circle cx="1574.3" cy="651.0" r="5.35" /><circle cx="1582.5" cy="662.5" r="5.35" /><circle cx="1590.6" cy="653.5" r="5.35" /><circle cx="1598.7" cy="639.0" r="5.35" /><circle cx="1606.9" cy="673.0" r="5.35" /><circle cx="1615.0" cy="630.0" r="5.35" /><circle cx="1623.2" cy="638.0" r="5.35" /><circle cx="1631.3" cy="626.0" r="5.35" /><circle cx="1639.4" cy="626.0" r="5.35" /><circle cx="1647.6" cy="623.5" r="5.35" /><circle cx="1655.7" cy="648.4" r="5.35" /><circle cx="1663.9" cy="661.5" r="5.35" /><circle cx="1672.0" cy="604.5" r="5.35" /><circle cx="1680.2" cy="668.9" r="5.35" /><circle cx="1688.3" cy="671.0" r="5.35" /><circle cx="1696.4" cy="639.0" r="5.35" /><circle cx="1704.6" cy="618.0" r="5.35" /><circle cx="1712.7" cy="611.0" r="5.35" /><circle cx="1720.9" cy="633.5" r="5.35" /><circle cx="1729.0" cy="647.5" r="5.35" /><circle cx="1737.2" cy="636.5" r="5.35" /><circle cx="1745.3" cy="630.5" r="5.35" /><circle cx="1753.4" cy="633.0" r="5.35" /><circle cx="1761.6" cy="633.0" r="5.35" /><circle cx="1769.7" cy="620.5" r="5.35" /><circle cx="1777.9" cy="664.5" r="5.35" /><circle cx="1786.0" cy="666.4" r="5.35" /><circle cx="1794.1" cy="627.0" r="5.35" /><circle cx="1802.3" cy="612.5" r="5.35" /><circle cx="1810.4" cy="624.5" r="5.35" /><circle cx="1818.6" cy="611.5" r="5.35" /><circle cx="1826.7" cy="614.5" r="5.35" /><circle cx="1834.9" cy="630.5" r="5.35" /><circle cx="1843.0" cy="643.0" r="5.35" /><circle cx="1851.1" cy="668.9" r="5.35" /><circle cx="1859.3" cy="625.0" r="5.35" /><circle cx="1867.4" cy="645.0" r="5.35" /><circle cx="1875.6" cy="634.5" r="5.35" /><circle cx="1883.7" cy="631.0" r="5.35" /><circle cx="1891.9" cy="608.0" r="5.35" /><circle cx="1900.0" cy="618.0" r="5.35" /><circle cx="1908.1" cy="612.5" r="5.35" /><circle cx="1916.3" cy="628.5" r="5.35" /><circle cx="1924.4" cy="656.0" r="5.35" /><circle cx="1932.6" cy="614.5" r="5.35" /><circle cx="1940.7" cy="671.9" r="5.35" /><circle cx="1948.8" cy="628.8" r="5.35" /><circle cx="1957.0" cy="612.6" r="5.35" /><circle cx="1965.1" cy="658.1" r="5.35" /><circle cx="1973.3" cy="662.5" r="5.35" /><circle cx="1981.4" cy="631.0" r="5.35" /><circle cx="1989.6" cy="606.4" r="5.35" /><circle cx="1997.7" cy="654.0" r="5.35" /><circle cx="2005.8" cy="603.8" r="5.35" /></g>
<path d="M241.0 1472.5L245.2 1455.5M249.6 1439.3L252.9 1428.7M257.1 1412.5L261.6 1392.4M265.2 1376.0L269.9 1353.1M273.0 1336.6L278.4 1304.2M280.9 1287.6L286.8 1243.7M290.3 1227.4L293.6 1216.3M296.7 1199.9L303.5 1120.7M313.2 1103.9L319.5 1046.2M320.9 1029.5L328.1 904.0M330.0 887.3L335.4 854.7M338.1 838.1L343.5 806.2M346.3 789.6L351.6 759.1M353.9 742.5L360.2 686.4M363.9 670.1L366.5 662.8M373.3 647.5L373.4 647.2M379.8 631.8L383.2 619.9M387.4 620.1L391.9 640.7M397.0 641.1L398.6 637.6M404.7 637.8L407.2 644.9M412.4 644.8L415.8 632.9M429.0 604.9L431.7 596.8M435.7 597.2L441.3 635.6M444.6 635.7L448.6 620.0M469.0 622.0L473.2 639.7M476.9 639.6L481.6 617.1M486.3 601.0L488.4 595.7M503.0 594.2L504.3 591.5M525.4 609.7L530.8 642.6M550.9 642.3L554.1 631.9M558.6 615.7L562.7 599.5M568.7 598.8L568.8 599.0M575.9 598.5L578.0 593.2M583.1 593.5L587.0 608.7M591.2 608.7L595.2 593.0M616.3 608.3L619.0 616.4M631.8 622.2L636.0 604.6M648.2 605.0L652.2 621.2M674.6 633.0L674.7 632.7M682.5 617.9L683.0 616.9M689.2 617.4L692.6 628.8M697.2 628.8L700.9 615.5M715.1 595.9L715.6 594.9M721.0 595.6L726.0 622.6M729.2 622.6L734.1 597.6M737.5 597.6L742.0 618.7M745.7 618.7L750.1 599.1M753.8 599.1L758.3 620.2M762.8 620.4L765.6 611.9M779.1 600.9L781.8 592.8M786.0 593.2L791.2 623.6M803.1 632.0L806.7 645.2M810.2 645.0L815.9 607.2M819.7 606.9L822.6 615.9M843.4 634.7L847.8 616.0M868.1 625.0L872.0 639.7M878.1 640.5L878.2 640.3M885.9 640.4L886.8 642.3M891.5 641.5L897.5 595.2M899.5 595.2L905.7 645.5M908.3 645.6L913.2 621.1M916.5 621.1L921.2 643.6M925.8 644.0L928.2 637.3M932.6 621.1L937.8 592.2M948.4 593.7L954.5 641.0M957.3 641.2L961.9 620.6M973.6 623.6L978.2 645.1M981.0 645.0L987.0 599.7M989.2 599.7L995.1 645.0M997.3 645.0L1003.3 597.7M1007.4 597.2L1009.5 602.6M1016.1 602.8L1017.0 601.0M1030.2 600.7L1035.6 633.1M1039.9 633.5L1042.2 627.2M1056.3 620.7L1058.3 625.5M1070.8 636.1L1076.4 598.7M1081.6 597.8L1081.9 598.4M1088.9 613.7L1090.8 618.6M1095.7 618.1L1100.4 595.6M1103.5 595.7L1108.8 625.1M1113.0 625.4L1115.6 618.3M1122.1 602.9L1122.8 601.4M1128.1 602.1L1133.1 628.6M1136.5 628.7L1140.9 609.6M1152.0 597.7L1158.0 645.0M1160.2 645.0L1166.1 602.7M1169.4 602.5L1173.2 616.3M1177.4 616.2L1181.4 600.5M1186.4 600.3L1188.7 606.5M1201.5 610.6L1206.2 634.1M1209.2 634.1L1214.7 599.7M1217.9 599.6L1222.3 618.7M1228.0 634.4L1228.5 635.4M1233.5 634.5L1239.3 593.7M1241.7 593.7L1247.4 631.0M1250.4 631.1L1255.0 610.6M1258.1 610.7L1263.6 646.1M1267.1 646.2L1270.9 632.5M1275.9 616.5L1278.4 609.3M1290.6 604.7L1296.2 640.1M1298.8 640.1L1304.3 604.2M1309.6 603.3L1309.8 603.5M1316.2 602.8L1319.5 591.4M1323.4 591.7L1328.6 621.1M1339.4 634.0L1345.2 592.7M1348.5 592.5L1352.3 606.3M1365.6 607.5L1367.8 601.7M1372.0 602.2L1377.7 641.0M1381.2 641.3L1384.8 628.5M1390.9 612.9L1391.4 611.9M1396.7 612.7L1401.9 642.1M1414.0 638.4L1417.1 628.9M1437.8 616.5L1442.1 634.7M1445.2 634.5L1451.0 594.7M1455.4 594.1L1457.1 598.1M1469.9 613.6L1475.2 644.1M1477.7 644.0L1483.7 597.7M1502.4 600.7L1507.8 634.1M1511.7 634.4L1514.8 624.9M1520.7 609.2L1522.1 606.1M1551.8 593.1L1556.1 610.7M1570.1 605.9L1570.4 605.3M1586.2 597.8L1586.9 596.4M1591.8 597.2L1597.6 638.0M1608.1 638.1L1613.8 599.7M1626.9 592.8L1627.6 591.4M1632.3 592.2L1638.5 643.5M1641.0 643.6L1646.0 617.1M1649.6 617.0L1653.7 633.2M1665.2 629.6L1670.7 596.2M1673.6 596.1L1678.6 622.1M1681.6 622.1L1686.9 591.2M1689.7 591.2L1695.1 623.6M1699.6 624.1L1701.4 619.7M1706.9 620.0L1710.5 632.8M1714.1 632.6L1719.5 600.2M1722.4 600.1L1727.4 626.6M1730.6 626.6L1735.5 602.1M1740.3 601.7L1742.2 606.6M1755.8 633.4L1759.2 645.3M1780.6 644.9L1783.3 637.3M1790.0 622.0L1790.1 621.8M1796.3 606.2L1800.2 591.5M1803.7 591.7L1809.1 624.1M1814.2 624.9L1814.8 623.8M1829.4 616.8L1832.2 624.9M1838.8 640.3L1839.1 640.9M1852.4 636.1L1858.0 598.7M1863.3 597.8L1863.4 598.0M1869.0 613.6L1874.0 639.1M1885.1 640.1L1890.5 606.7M1895.2 606.1L1896.6 609.2M1917.8 605.6L1922.9 634.1M1925.8 634.1L1931.2 602.2M1951.1 614.9L1954.8 628.4M1960.1 628.7L1962.0 624.1M1975.5 629.6L1979.2 643.1M1982.5 642.9L1988.5 596.5M1991.5 596.3L1995.8 615.1M1999.5 615.1L2004.0 594.5" stroke="#00ff00" stroke-width="1.9" fill="none"/>
<g fill="#1e6fdc" stroke="#0f5fd6" stroke-width="0.8"><path d="M222.7 1486.8L229.3 1498.2L216.1 1498.2Z" /><path d="M230.9 1482.5L237.5 1493.9L224.3 1493.9Z" /><path d="M239.0 1473.1L245.6 1484.5L232.4 1484.5Z" /><path d="M247.2 1439.7L253.8 1451.1L240.6 1451.1Z" /><path d="M255.3 1413.1L261.9 1424.5L248.7 1424.5Z" /><path d="M263.5 1376.6L270.1 1388.0L256.9 1388.0Z" /><path d="M271.6 1337.3L278.2 1348.7L265.0 1348.7Z" /><path d="M279.7 1288.3L286.3 1299.7L273.1 1299.7Z" /><path d="M287.9 1227.8L294.5 1239.2L281.3 1239.2Z" /><path d="M296.0 1200.7L302.6 1212.1L289.4 1212.1Z" /><path d="M304.2 1104.7L310.8 1116.1L297.6 1116.1Z" /><path d="M312.3 1104.7L318.9 1116.1L305.7 1116.1Z" /><path d="M320.4 1030.3L327.0 1041.7L313.8 1041.7Z" /><path d="M328.6 888.0L335.2 899.4L322.0 899.4Z" /><path d="M336.7 838.8L343.3 850.2L330.1 850.2Z" /><path d="M344.9 790.3L351.5 801.7L338.3 801.7Z" /><path d="M353.0 743.3L359.6 754.7L346.4 754.7Z" /><path d="M361.2 670.4L367.8 681.8L354.6 681.8Z" /><path d="M369.3 647.3L375.9 658.7L362.7 658.7Z" /><path d="M377.4 632.3L384.0 643.7L370.8 643.7Z" /><path d="M385.6 604.3L392.2 615.7L379.0 615.7Z" /><path d="M393.7 641.3L400.3 652.7L387.1 652.7Z" /><path d="M401.9 622.3L408.5 633.7L395.3 633.7Z" /><path d="M410.0 645.3L416.6 656.7L403.4 656.7Z" /><path d="M418.1 617.3L424.8 628.7L411.5 628.7Z" /><path d="M426.3 605.3L432.9 616.7L419.7 616.7Z" /><path d="M434.4 581.3L441.0 592.7L427.8 592.7Z" /><path d="M442.6 636.3L449.2 647.7L436.0 647.7Z" /><path d="M450.7 604.3L457.3 615.7L444.1 615.7Z" /><path d="M458.9 601.3L465.5 612.7L452.3 612.7Z" /><path d="M467.0 606.3L473.6 617.7L460.4 617.7Z" /><path d="M475.1 640.2L481.7 651.6L468.5 651.6Z" /><path d="M483.3 601.3L489.9 612.7L476.7 612.7Z" /><path d="M491.4 580.3L498.0 591.7L484.8 591.7Z" /><path d="M499.6 594.3L506.2 605.7L493.0 605.7Z" /><path d="M507.7 576.3L514.3 587.7L501.1 587.7Z" /><path d="M515.9 579.3L522.5 590.7L509.3 590.7Z" /><path d="M524.0 593.8L530.6 605.2L517.4 605.2Z" /><path d="M532.1 643.2L538.7 654.6L525.5 654.6Z" /><path d="M540.3 642.3L546.9 653.7L533.7 653.7Z" /><path d="M548.4 642.7L555.0 654.1L541.8 654.1Z" /><path d="M556.6 616.3L563.2 627.7L550.0 627.7Z" /><path d="M564.7 583.8L571.3 595.2L558.1 595.2Z" /><path d="M572.8 598.8L579.4 610.2L566.2 610.2Z" /><path d="M581.0 577.8L587.6 589.2L574.4 589.2Z" /><path d="M589.1 609.3L595.7 620.7L582.5 620.7Z" /><path d="M597.3 577.3L603.9 588.7L590.7 588.7Z" /><path d="M605.4 587.8L612.0 599.2L598.8 599.2Z" /><path d="M613.6 592.8L620.2 604.2L607.0 604.2Z" /><path d="M621.7 616.8L628.3 628.2L615.1 628.2Z" /><path d="M629.8 622.8L636.4 634.2L623.2 634.2Z" /><path d="M638.0 588.8L644.6 600.2L631.4 600.2Z" /><path d="M646.1 589.3L652.7 600.7L639.5 600.7Z" /><path d="M654.3 621.8L660.9 633.2L647.7 633.2Z" /><path d="M662.4 634.8L669.0 646.2L655.8 646.2Z" /><path d="M670.6 632.8L677.2 644.2L664.0 644.2Z" /><path d="M678.7 617.8L685.3 629.2L672.1 629.2Z" /><path d="M686.8 601.8L693.4 613.2L680.2 613.2Z" /><path d="M695.0 629.3L701.6 640.7L688.4 640.7Z" /><path d="M703.1 599.8L709.7 611.2L696.5 611.2Z" /><path d="M711.3 595.8L717.9 607.2L704.7 607.2Z" /><path d="M719.4 579.8L726.0 591.2L712.8 591.2Z" /><path d="M727.5 623.3L734.1 634.7L720.9 634.7Z" /><path d="M735.7 581.8L742.3 593.2L729.1 593.2Z" /><path d="M743.8 619.3L750.4 630.7L737.2 630.7Z" /><path d="M752.0 583.3L758.6 594.7L745.4 594.7Z" /><path d="M760.1 620.8L766.7 632.2L753.5 632.2Z" /><path d="M768.3 596.3L774.9 607.7L761.7 607.7Z" /><path d="M776.4 601.3L783.0 612.7L769.8 612.7Z" /><path d="M784.5 577.3L791.1 588.7L777.9 588.7Z" /><path d="M792.7 624.3L799.3 635.7L786.1 635.7Z" /><path d="M800.8 616.3L807.4 627.7L794.2 627.7Z" /><path d="M809.0 645.7L815.6 657.1L802.4 657.1Z" /><path d="M817.1 591.3L823.7 602.7L810.5 602.7Z" /><path d="M825.2 616.3L831.9 627.7L818.6 627.7Z" /><path d="M833.4 625.3L840.0 636.7L826.8 636.7Z" /><path d="M841.5 635.3L848.1 646.7L834.9 646.7Z" /><path d="M849.7 600.3L856.3 611.7L843.1 611.7Z" /><path d="M857.8 605.3L864.4 616.7L851.2 616.7Z" /><path d="M866.0 609.3L872.6 620.7L859.4 620.7Z" /><path d="M874.1 640.2L880.7 651.6L867.5 651.6Z" /><path d="M882.2 625.3L888.8 636.7L875.6 636.7Z" /><path d="M890.4 642.3L897.0 653.7L883.8 653.7Z" /><path d="M898.5 579.3L905.1 590.7L891.9 590.7Z" /><path d="M906.7 646.2L913.3 657.6L900.1 657.6Z" /><path d="M914.8 605.3L921.4 616.7L908.2 616.7Z" /><path d="M923.0 644.3L929.6 655.7L916.4 655.7Z" /><path d="M931.1 621.8L937.7 633.2L924.5 633.2Z" /><path d="M939.2 576.3L945.8 587.7L932.6 587.7Z" /><path d="M947.4 577.8L954.0 589.2L940.8 589.2Z" /><path d="M955.5 641.8L962.1 653.2L948.9 653.2Z" /><path d="M963.7 604.8L970.3 616.2L957.1 616.2Z" /><path d="M971.8 607.8L978.4 619.2L965.2 619.2Z" /><path d="M979.9 645.7L986.5 657.1L973.3 657.1Z" /><path d="M988.1 583.8L994.7 595.2L981.5 595.2Z" /><path d="M996.2 645.7L1002.8 657.1L989.6 657.1Z" /><path d="M1004.4 581.8L1011.0 593.2L997.8 593.2Z" /><path d="M1012.5 602.8L1019.1 614.2L1005.9 614.2Z" /><path d="M1020.7 585.8L1027.3 597.2L1014.1 597.2Z" /><path d="M1028.8 584.8L1035.4 596.2L1022.2 596.2Z" /><path d="M1036.9 633.8L1043.5 645.2L1030.3 645.2Z" /><path d="M1045.1 611.8L1051.7 623.2L1038.5 623.2Z" /><path d="M1053.2 605.3L1059.8 616.7L1046.6 616.7Z" /><path d="M1061.4 625.8L1068.0 637.2L1054.8 637.2Z" /><path d="M1069.5 636.8L1076.1 648.2L1062.9 648.2Z" /><path d="M1077.7 582.8L1084.3 594.2L1071.1 594.2Z" /><path d="M1085.8 598.3L1092.4 609.7L1079.2 609.7Z" /><path d="M1093.9 618.8L1100.5 630.2L1087.3 630.2Z" /><path d="M1102.1 579.8L1108.7 591.2L1095.5 591.2Z" /><path d="M1110.2 625.8L1116.8 637.2L1103.6 637.2Z" /><path d="M1118.4 602.8L1125.0 614.2L1111.8 614.2Z" /><path d="M1126.5 586.3L1133.1 597.7L1119.9 597.7Z" /><path d="M1134.6 629.3L1141.2 640.7L1128.0 640.7Z" /><path d="M1142.8 593.8L1149.4 605.2L1136.2 605.2Z" /><path d="M1150.9 581.8L1157.5 593.2L1144.3 593.2Z" /><path d="M1159.1 645.7L1165.7 657.1L1152.5 657.1Z" /><path d="M1167.2 586.8L1173.8 598.2L1160.6 598.2Z" /><path d="M1175.4 616.8L1182.0 628.2L1168.8 628.2Z" /><path d="M1183.5 584.8L1190.1 596.2L1176.9 596.2Z" /><path d="M1191.6 606.8L1198.2 618.2L1185.0 618.2Z" /><path d="M1199.8 594.8L1206.4 606.2L1193.2 606.2Z" /><path d="M1207.9 634.8L1214.5 646.2L1201.3 646.2Z" /><path d="M1216.1 583.8L1222.7 595.2L1209.5 595.2Z" /><path d="M1224.2 619.3L1230.8 630.7L1217.6 630.7Z" /><path d="M1232.3 635.3L1238.9 646.7L1225.8 646.7Z" /><path d="M1240.5 577.8L1247.1 589.2L1233.9 589.2Z" /><path d="M1248.6 631.8L1255.2 643.2L1242.0 643.2Z" /><path d="M1256.8 594.8L1263.4 606.2L1250.2 606.2Z" /><path d="M1264.9 646.8L1271.5 658.2L1258.3 658.2Z" /><path d="M1273.1 616.8L1279.7 628.2L1266.5 628.2Z" /><path d="M1281.2 593.8L1287.8 605.2L1274.6 605.2Z" /><path d="M1289.3 588.8L1295.9 600.2L1282.7 600.2Z" /><path d="M1297.5 640.8L1304.1 652.2L1290.9 652.2Z" /><path d="M1305.6 588.3L1312.2 599.7L1299.0 599.7Z" /><path d="M1313.8 603.3L1320.4 614.7L1307.2 614.7Z" /><path d="M1321.9 575.8L1328.5 587.2L1315.3 587.2Z" /><path d="M1330.1 621.8L1336.7 633.2L1323.5 633.2Z" /><path d="M1338.2 634.8L1344.8 646.2L1331.6 646.2Z" /><path d="M1346.3 576.8L1352.9 588.2L1339.7 588.2Z" /><path d="M1354.5 606.8L1361.1 618.2L1347.9 618.2Z" /><path d="M1362.6 607.8L1369.2 619.2L1356.0 619.2Z" /><path d="M1370.8 586.3L1377.4 597.7L1364.2 597.7Z" /><path d="M1378.9 641.8L1385.5 653.2L1372.3 653.2Z" /><path d="M1387.0 612.8L1393.6 624.2L1380.4 624.2Z" /><path d="M1395.2 596.8L1401.8 608.2L1388.6 608.2Z" /><path d="M1403.3 642.7L1409.9 654.1L1396.7 654.1Z" /><path d="M1411.5 638.8L1418.1 650.2L1404.9 650.2Z" /><path d="M1419.6 613.3L1426.2 624.7L1413.0 624.7Z" /><path d="M1427.8 613.8L1434.4 625.2L1421.2 625.2Z" /><path d="M1435.9 600.8L1442.5 612.2L1429.3 612.2Z" /><path d="M1444.0 635.3L1450.6 646.7L1437.4 646.7Z" /><path d="M1452.2 578.8L1458.8 590.2L1445.6 590.2Z" /><path d="M1460.3 598.3L1466.9 609.7L1453.7 609.7Z" /><path d="M1468.5 597.8L1475.1 609.2L1461.9 609.2Z" /><path d="M1476.6 644.8L1483.2 656.2L1470.0 656.2Z" /><path d="M1484.8 581.8L1491.4 593.2L1478.2 593.2Z" /><path d="M1492.9 593.8L1499.5 605.2L1486.3 605.2Z" /><path d="M1501.0 584.8L1507.6 596.2L1494.4 596.2Z" /><path d="M1509.2 634.8L1515.8 646.2L1502.6 646.2Z" /><path d="M1517.3 609.3L1523.9 620.7L1510.7 620.7Z" /><path d="M1525.5 590.8L1532.1 602.2L1518.9 602.2Z" /><path d="M1533.6 587.3L1540.2 598.7L1527.0 598.7Z" /><path d="M1541.7 579.3L1548.3 590.7L1535.1 590.7Z" /><path d="M1549.9 577.3L1556.5 588.7L1543.3 588.7Z" /><path d="M1558.0 611.3L1564.6 622.7L1551.4 622.7Z" /><path d="M1566.2 605.8L1572.8 617.2L1559.6 617.2Z" /><path d="M1574.3 590.3L1580.9 601.7L1567.7 601.7Z" /><path d="M1582.5 597.8L1589.1 609.2L1575.9 609.2Z" /><path d="M1590.6 581.3L1597.2 592.7L1584.0 592.7Z" /><path d="M1598.7 638.8L1605.3 650.2L1592.1 650.2Z" /><path d="M1606.9 638.8L1613.5 650.2L1600.3 650.2Z" /><path d="M1615.0 583.8L1621.6 595.2L1608.4 595.2Z" /><path d="M1623.2 592.8L1629.8 604.2L1616.6 604.2Z" /><path d="M1631.3 576.3L1637.9 587.7L1624.7 587.7Z" /><path d="M1639.4 644.3L1646.0 655.7L1632.8 655.7Z" /><path d="M1647.6 601.3L1654.2 612.7L1641.0 612.7Z" /><path d="M1655.7 633.8L1662.3 645.2L1649.1 645.2Z" /><path d="M1663.9 630.3L1670.5 641.7L1657.3 641.7Z" /><path d="M1672.0 580.3L1678.6 591.7L1665.4 591.7Z" /><path d="M1680.2 622.8L1686.8 634.2L1673.6 634.2Z" /><path d="M1688.3 575.3L1694.9 586.7L1681.7 586.7Z" /><path d="M1696.4 624.3L1703.0 635.7L1689.8 635.7Z" /><path d="M1704.6 604.3L1711.2 615.7L1698.0 615.7Z" /><path d="M1712.7 633.3L1719.3 644.7L1706.1 644.7Z" /><path d="M1720.9 584.3L1727.5 595.7L1714.3 595.7Z" /><path d="M1729.0 627.3L1735.6 638.7L1722.4 638.7Z" /><path d="M1737.2 586.3L1743.8 597.7L1730.6 597.7Z" /><path d="M1745.3 606.8L1751.9 618.2L1738.7 618.2Z" /><path d="M1753.4 617.8L1760.0 629.2L1746.8 629.2Z" /><path d="M1761.6 645.7L1768.2 657.1L1755.0 657.1Z" /><path d="M1769.7 644.8L1776.3 656.2L1763.1 656.2Z" /><path d="M1777.9 645.3L1784.5 656.7L1771.3 656.7Z" /><path d="M1786.0 621.8L1792.6 633.2L1779.4 633.2Z" /><path d="M1794.1 606.8L1800.7 618.2L1787.5 618.2Z" /><path d="M1802.3 575.8L1808.9 587.2L1795.7 587.2Z" /><path d="M1810.4 624.8L1817.0 636.2L1803.8 636.2Z" /><path d="M1818.6 608.8L1825.2 620.2L1812.0 620.2Z" /><path d="M1826.7 601.3L1833.3 612.7L1820.1 612.7Z" /><path d="M1834.9 625.3L1841.5 636.7L1828.3 636.7Z" /><path d="M1843.0 640.8L1849.6 652.2L1836.4 652.2Z" /><path d="M1851.1 636.8L1857.7 648.2L1844.5 648.2Z" /><path d="M1859.3 582.8L1865.9 594.2L1852.7 594.2Z" /><path d="M1867.4 597.8L1874.0 609.2L1860.8 609.2Z" /><path d="M1875.6 639.8L1882.2 651.2L1869.0 651.2Z" /><path d="M1883.7 640.8L1890.3 652.2L1877.1 652.2Z" /><path d="M1891.9 590.8L1898.5 602.2L1885.3 602.2Z" /><path d="M1900.0 609.3L1906.6 620.7L1893.4 620.7Z" /><path d="M1908.1 597.8L1914.7 609.2L1901.5 609.2Z" /><path d="M1916.3 589.8L1922.9 601.2L1909.7 601.2Z" /><path d="M1924.4 634.8L1931.0 646.2L1917.8 646.2Z" /><path d="M1932.6 586.3L1939.2 597.7L1926.0 597.7Z" /><path d="M1940.7 598.8L1947.3 610.2L1934.1 610.2Z" /><path d="M1948.8 599.2L1955.4 610.6L1942.2 610.6Z" /><path d="M1957.0 628.9L1963.6 640.3L1950.4 640.3Z" /><path d="M1965.1 608.8L1971.7 620.2L1958.5 620.2Z" /><path d="M1973.3 613.9L1979.9 625.3L1966.7 625.3Z" /><path d="M1981.4 643.6L1988.0 655.0L1974.8 655.0Z" /><path d="M1989.6 580.6L1996.2 592.0L1983.0 592.0Z" /><path d="M1997.7 615.7L2004.3 627.1L1991.1 627.1Z" /><path d="M2005.8 578.7L2012.4 590.1L1999.2 590.1Z" /></g>
<path d="M233.2 1479.1L236.8 1466.3M241.6 1450.2L244.6 1440.7M249.1 1424.6L253.3 1407.1M257.4 1390.8L261.3 1375.8M265.1 1359.5L270.0 1335.1M272.8 1318.6L278.6 1277.6M280.7 1261.0L286.9 1206.4M289.0 1189.7L294.9 1145.6M296.8 1128.9L303.4 1059.3M304.8 1042.5L311.7 950.1M313.2 933.3L319.6 872.1M320.9 855.3L328.2 709.9M329.5 693.1L335.8 637.8M338.1 621.2L343.5 589.7M345.8 573.1L352.1 517.7M355.6 501.4L358.5 492.5M364.0 476.6L366.5 469.6M370.7 453.4L376.1 421.2M379.4 404.8L383.6 387.1M389.6 371.6L389.7 371.5M395.4 372.4L400.2 397.1M405.1 413.1L406.8 417.4M427.8 417.6L432.9 389.2M436.6 389.1L440.4 403.3M452.5 392.5L457.1 371.6M468.8 374.4L473.3 394.8M485.1 404.4L489.6 425.3M526.0 412.4L530.1 396.0M534.8 379.9L537.6 371.7M550.0 378.5L555.0 404.7M558.8 404.8L562.4 392.1M566.4 392.2L571.2 415.4M601.1 415.4L601.6 414.3M624.7 388.8L626.8 394.4M641.0 381.5L643.1 375.8M655.5 377.8L661.2 418.3M663.9 418.4L669.1 390.0M672.0 390.0L677.2 419.9M688.4 416.1L693.4 390.0M697.0 389.9L701.1 406.3M713.0 400.2L717.6 378.5M721.6 378.4L725.3 391.9M731.1 392.4L732.1 390.1M737.4 390.7L742.1 413.9M761.7 400.1L766.7 374.0M772.2 373.1L772.4 373.5M802.6 402.1L807.1 422.3M810.3 422.2L815.7 390.0M819.1 389.9L823.3 407.1M828.2 407.3L830.5 401.0M843.7 393.6L847.5 407.9M851.8 407.9L855.7 393.6M859.2 393.8L864.6 425.2M867.0 425.2L873.1 374.8M885.7 384.0L887.0 387.0M909.6 394.4L911.9 388.1M949.2 396.0L953.7 416.2M957.3 416.2L961.8 396.0M967.3 380.3L968.1 378.6M973.9 379.2L977.8 394.2M991.4 403.9L992.9 407.5M999.1 407.3L1001.6 400.3M1015.5 398.7L1017.7 404.3M1024.3 419.7L1025.1 421.4M1029.9 420.6L1035.8 376.3M1064.7 382.4L1066.2 378.8M1071.5 379.2L1075.6 395.6M1080.8 411.6L1082.6 415.8M1095.9 415.4L1100.1 398.3M1105.0 398.0L1107.3 404.3M1113.0 404.2L1115.6 396.5M1162.5 410.7L1163.8 413.6M1193.7 410.1L1197.7 394.4M1210.3 382.9L1213.7 394.2M1219.6 394.7L1220.7 392.4M1236.3 377.7L1236.5 378.1M1251.6 388.0L1253.8 393.7M1275.1 399.7L1279.1 415.5M1282.6 415.3L1288.0 383.1M1291.1 383.1L1295.7 404.7M1315.0 412.2L1320.7 373.2M1325.1 372.7L1326.9 377.0M1341.4 388.7L1343.1 393.0M1356.3 401.7L1360.8 380.8M1364.3 380.8L1369.1 405.5M1389.0 411.6L1393.2 393.7M1405.0 380.8L1409.8 405.5M1414.4 405.8L1416.7 399.5M1421.7 399.7L1425.6 414.7M1437.6 416.9L1442.3 394.5M1446.6 394.3L1449.6 403.4M1479.1 392.0L1482.2 382.1M1486.6 382.3L1491.0 401.7M1520.0 410.3L1522.8 401.8M1527.2 402.1L1531.9 424.5M1535.0 424.5L1540.3 393.8M1544.7 393.4L1546.9 399.0M1553.4 399.2L1554.5 396.9M1562.0 381.9L1562.2 381.5M1567.8 382.3L1572.7 407.0M1578.0 422.8L1578.8 424.4M1584.8 423.9L1588.2 412.6M1593.2 412.6L1596.2 421.7M1600.7 421.5L1604.9 403.6M1609.9 403.3L1612.0 408.9M1642.4 410.9L1644.6 416.5M1648.9 416.1L1654.5 379.3M1666.0 377.6L1669.8 391.9M1675.3 392.3L1676.9 388.7M1682.3 389.1L1686.1 403.3M1689.7 403.1L1695.0 372.5M1697.6 372.5L1703.4 414.5M1706.0 414.6L1711.3 382.4M1730.4 375.5L1735.8 408.5M1738.8 408.5L1743.6 385.4M1748.0 385.1L1750.8 393.5M1756.3 393.6L1758.7 387.3M1780.3 390.4L1783.6 379.1M1797.3 375.0L1799.1 379.3M1804.0 395.3L1808.7 417.7M1819.8 411.5L1825.5 373.2M1829.0 373.0L1832.5 385.1M1844.4 396.1L1849.7 426.0M1879.2 416.8L1880.0 415.2M1887.4 415.2L1888.2 416.8M1893.4 416.1L1898.5 388.4M1909.5 383.1L1914.9 416.1M1926.1 420.7L1930.9 396.0M1944.5 392.3L1945.0 393.3M1966.9 395.6L1971.5 374.0M1974.3 374.1L1980.4 426.8M1985.4 427.7L1985.6 427.3M1998.8 420.7L2004.8 373.3" stroke="#0000ff" stroke-width="1.9" fill="none"/>
<g fill="#37aa68" stroke="#1f9a55" stroke-width="0.8"><path d="M222.7 1499.5L229.2 1488.3L216.2 1488.3Z" /><path d="M230.9 1494.7L237.4 1483.5L224.4 1483.5Z" /><path d="M239.0 1465.7L245.5 1454.5L232.5 1454.5Z" /><path d="M247.2 1440.2L253.7 1429.0L240.7 1429.0Z" /><path d="M255.3 1406.4L261.8 1395.2L248.8 1395.2Z" /><path d="M263.5 1375.2L270.0 1364.0L257.0 1364.0Z" /><path d="M271.6 1334.4L278.1 1323.2L265.1 1323.2Z" /><path d="M279.7 1276.8L286.2 1265.6L273.2 1265.6Z" /><path d="M287.9 1205.5L294.4 1194.3L281.4 1194.3Z" /><path d="M296.0 1144.8L302.5 1133.6L289.5 1133.6Z" /><path d="M304.2 1058.4L310.7 1047.2L297.7 1047.2Z" /><path d="M312.3 949.2L318.8 938.0L305.8 938.0Z" /><path d="M320.4 871.2L326.9 860.0L313.9 860.0Z" /><path d="M328.6 708.9L335.1 697.7L322.1 697.7Z" /><path d="M336.7 636.9L343.2 625.7L330.2 625.7Z" /><path d="M344.9 588.9L351.4 577.7L338.4 577.7Z" /><path d="M353.0 516.8L359.5 505.6L346.5 505.6Z" /><path d="M361.2 492.0L367.7 480.8L354.7 480.8Z" /><path d="M369.3 469.1L375.8 457.9L362.8 457.9Z" /><path d="M377.4 420.4L383.9 409.2L370.9 409.2Z" /><path d="M385.6 386.4L392.1 375.2L379.1 375.2Z" /><path d="M393.7 371.7L400.2 360.5L387.2 360.5Z" /><path d="M401.9 412.8L408.4 401.6L395.4 401.6Z" /><path d="M410.0 432.6L416.5 421.4L403.5 421.4Z" /><path d="M418.1 436.4L424.6 425.2L411.6 425.2Z" /><path d="M426.3 433.4L432.8 422.2L419.8 422.2Z" /><path d="M434.4 388.4L440.9 377.2L427.9 377.2Z" /><path d="M442.6 418.9L449.1 407.7L436.1 407.7Z" /><path d="M450.7 408.2L457.2 397.0L444.2 397.0Z" /><path d="M458.9 370.9L465.4 359.7L452.4 359.7Z" /><path d="M467.0 373.6L473.5 362.4L460.5 362.4Z" /><path d="M475.1 410.5L481.6 399.3L468.6 399.3Z" /><path d="M483.3 403.7L489.8 392.5L476.8 392.5Z" /><path d="M491.4 441.0L497.9 429.8L484.9 429.8Z" /><path d="M499.6 432.6L506.1 421.4L493.1 421.4Z" /><path d="M507.7 428.8L514.2 417.6L501.2 417.6Z" /><path d="M515.9 420.9L522.4 409.7L509.4 409.7Z" /><path d="M524.0 428.0L530.5 416.8L517.5 416.8Z" /><path d="M532.1 395.3L538.6 384.1L525.6 384.1Z" /><path d="M540.3 371.2L546.8 360.0L533.8 360.0Z" /><path d="M548.4 377.8L554.9 366.6L541.9 366.6Z" /><path d="M556.6 420.4L563.1 409.2L550.1 409.2Z" /><path d="M564.7 391.5L571.2 380.3L558.2 380.3Z" /><path d="M572.8 431.1L579.3 419.9L566.3 419.9Z" /><path d="M581.0 423.5L587.5 412.3L574.5 412.3Z" /><path d="M589.1 437.9L595.6 426.7L582.6 426.7Z" /><path d="M597.3 430.3L603.8 419.1L590.8 419.1Z" /><path d="M605.4 414.3L611.9 403.1L598.9 403.1Z" /><path d="M613.6 402.9L620.1 391.7L607.1 391.7Z" /><path d="M621.7 388.4L628.2 377.2L615.2 377.2Z" /><path d="M629.8 409.7L636.3 398.5L623.3 398.5Z" /><path d="M638.0 396.8L644.5 385.6L631.5 385.6Z" /><path d="M646.1 375.5L652.6 364.3L639.6 364.3Z" /><path d="M654.3 377.0L660.8 365.8L647.8 365.8Z" /><path d="M662.4 434.1L668.9 422.9L655.9 422.9Z" /><path d="M670.6 389.2L677.1 378.0L664.1 378.0Z" /><path d="M678.7 435.6L685.2 424.4L672.2 424.4Z" /><path d="M686.8 431.8L693.3 420.6L680.3 420.6Z" /><path d="M695.0 389.2L701.5 378.0L688.5 378.0Z" /><path d="M703.1 421.9L709.6 410.7L696.6 410.7Z" /><path d="M711.3 415.8L717.8 404.6L704.8 404.6Z" /><path d="M719.4 377.8L725.9 366.6L712.9 366.6Z" /><path d="M727.5 407.4L734.0 396.2L721.0 396.2Z" /><path d="M735.7 389.9L742.2 378.7L729.2 378.7Z" /><path d="M743.8 429.5L750.3 418.3L737.3 418.3Z" /><path d="M752.0 423.5L758.5 412.3L745.5 412.3Z" /><path d="M760.1 415.8L766.6 404.6L753.6 404.6Z" /><path d="M768.3 373.2L774.8 362.0L761.8 362.0Z" /><path d="M776.4 388.4L782.9 377.2L769.9 377.2Z" /><path d="M784.5 396.5L791.0 385.3L778.0 385.3Z" /><path d="M792.7 392.2L799.2 381.0L786.2 381.0Z" /><path d="M800.8 401.3L807.3 390.1L794.3 390.1Z" /><path d="M809.0 437.9L815.5 426.7L802.5 426.7Z" /><path d="M817.1 389.2L823.6 378.0L810.6 378.0Z" /><path d="M825.2 422.7L831.8 411.5L818.8 411.5Z" /><path d="M833.4 400.6L839.9 389.4L826.9 389.4Z" /><path d="M841.5 393.0L848.0 381.8L835.0 381.8Z" /><path d="M849.7 423.5L856.2 412.3L843.2 412.3Z" /><path d="M857.8 393.0L864.3 381.8L851.3 381.8Z" /><path d="M866.0 441.0L872.5 429.8L859.5 429.8Z" /><path d="M874.1 373.9L880.6 362.7L867.6 362.7Z" /><path d="M882.2 383.8L888.7 372.6L875.7 372.6Z" /><path d="M890.4 402.1L896.9 390.9L883.9 390.9Z" /><path d="M898.5 416.6L905.0 405.4L892.0 405.4Z" /><path d="M906.7 409.7L913.2 398.5L900.2 398.5Z" /><path d="M914.8 387.6L921.3 376.4L908.3 376.4Z" /><path d="M923.0 391.5L929.5 380.3L916.5 380.3Z" /><path d="M931.1 380.8L937.6 369.6L924.6 369.6Z" /><path d="M939.2 391.5L945.7 380.3L932.7 380.3Z" /><path d="M947.4 395.3L953.9 384.1L940.9 384.1Z" /><path d="M955.5 431.8L962.0 420.6L949.0 420.6Z" /><path d="M963.7 395.3L970.2 384.1L957.2 384.1Z" /><path d="M971.8 378.5L978.3 367.3L965.3 367.3Z" /><path d="M979.9 409.7L986.4 398.5L973.4 398.5Z" /><path d="M988.1 403.7L994.6 392.5L981.6 392.5Z" /><path d="M996.2 422.7L1002.7 411.5L989.7 411.5Z" /><path d="M1004.4 399.8L1010.9 388.6L997.9 388.6Z" /><path d="M1012.5 398.3L1019.0 387.1L1006.0 387.1Z" /><path d="M1020.7 419.6L1027.2 408.4L1014.2 408.4Z" /><path d="M1028.8 436.4L1035.3 425.2L1022.3 425.2Z" /><path d="M1036.9 375.5L1043.4 364.3L1030.4 364.3Z" /><path d="M1045.1 389.2L1051.6 378.0L1038.6 378.0Z" /><path d="M1053.2 390.7L1059.7 379.5L1046.7 379.5Z" /><path d="M1061.4 397.6L1067.9 386.4L1054.9 386.4Z" /><path d="M1069.5 378.5L1076.0 367.3L1063.0 367.3Z" /><path d="M1077.7 411.3L1084.2 400.1L1071.2 400.1Z" /><path d="M1085.8 431.1L1092.3 419.9L1079.3 419.9Z" /><path d="M1093.9 431.1L1100.4 419.9L1087.4 419.9Z" /><path d="M1102.1 397.6L1108.6 386.4L1095.6 386.4Z" /><path d="M1110.2 419.6L1116.7 408.4L1103.7 408.4Z" /><path d="M1118.4 396.0L1124.9 384.8L1111.9 384.8Z" /><path d="M1126.5 409.7L1133.0 398.5L1120.0 398.5Z" /><path d="M1134.6 410.5L1141.1 399.3L1128.1 399.3Z" /><path d="M1142.8 398.3L1149.3 387.1L1136.3 387.1Z" /><path d="M1150.9 407.4L1157.4 396.2L1144.4 396.2Z" /><path d="M1159.1 410.5L1165.6 399.3L1152.6 399.3Z" /><path d="M1167.2 428.8L1173.7 417.6L1160.7 417.6Z" /><path d="M1175.4 428.8L1181.9 417.6L1168.9 417.6Z" /><path d="M1183.5 439.5L1190.0 428.3L1177.0 428.3Z" /><path d="M1191.6 425.7L1198.1 414.5L1185.1 414.5Z" /><path d="M1199.8 393.7L1206.3 382.5L1193.3 382.5Z" /><path d="M1207.9 382.3L1214.4 371.1L1201.4 371.1Z" /><path d="M1216.1 409.7L1222.6 398.5L1209.6 398.5Z" /><path d="M1224.2 392.2L1230.7 381.0L1217.7 381.0Z" /><path d="M1232.3 377.8L1238.8 366.6L1225.8 366.6Z" /><path d="M1240.5 393.0L1247.0 381.8L1234.0 381.8Z" /><path d="M1248.6 387.6L1255.1 376.4L1242.1 376.4Z" /><path d="M1256.8 409.0L1263.3 397.8L1250.3 397.8Z" /><path d="M1264.9 402.9L1271.4 391.7L1258.4 391.7Z" /><path d="M1273.1 399.1L1279.6 387.9L1266.6 387.9Z" /><path d="M1281.2 431.1L1287.7 419.9L1274.7 419.9Z" /><path d="M1289.3 382.3L1295.8 371.1L1282.8 371.1Z" /><path d="M1297.5 420.4L1304.0 409.2L1291.0 409.2Z" /><path d="M1305.6 434.1L1312.1 422.9L1299.1 422.9Z" /><path d="M1313.8 428.0L1320.3 416.8L1307.3 416.8Z" /><path d="M1321.9 372.4L1328.4 361.2L1315.4 361.2Z" /><path d="M1330.1 392.2L1336.6 381.0L1323.6 381.0Z" /><path d="M1338.2 388.4L1344.7 377.2L1331.7 377.2Z" /><path d="M1346.3 408.2L1352.8 397.0L1339.8 397.0Z" /><path d="M1354.5 417.4L1361.0 406.2L1348.0 406.2Z" /><path d="M1362.6 380.0L1369.1 368.8L1356.1 368.8Z" /><path d="M1370.8 421.2L1377.3 410.0L1364.3 410.0Z" /><path d="M1378.9 435.6L1385.4 424.4L1372.4 424.4Z" /><path d="M1387.0 427.3L1393.5 416.1L1380.5 416.1Z" /><path d="M1395.2 393.0L1401.7 381.8L1388.7 381.8Z" /><path d="M1403.3 380.0L1409.8 368.8L1396.8 368.8Z" /><path d="M1411.5 421.2L1418.0 410.0L1405.0 410.0Z" /><path d="M1419.6 399.1L1426.1 387.9L1413.1 387.9Z" /><path d="M1427.8 430.3L1434.3 419.1L1421.3 419.1Z" /><path d="M1435.9 432.6L1442.4 421.4L1429.4 421.4Z" /><path d="M1444.0 393.7L1450.5 382.5L1437.5 382.5Z" /><path d="M1452.2 418.9L1458.7 407.7L1445.7 407.7Z" /><path d="M1460.3 409.0L1466.8 397.8L1453.8 397.8Z" /><path d="M1468.5 404.4L1475.0 393.2L1462.0 393.2Z" /><path d="M1476.6 407.4L1483.1 396.2L1470.1 396.2Z" /><path d="M1484.8 381.5L1491.3 370.3L1478.3 370.3Z" /><path d="M1492.9 417.4L1499.4 406.2L1486.4 406.2Z" /><path d="M1501.0 421.2L1507.5 410.0L1494.5 410.0Z" /><path d="M1509.2 431.1L1515.7 419.9L1502.7 419.9Z" /><path d="M1517.3 425.7L1523.8 414.5L1510.8 414.5Z" /><path d="M1525.5 401.3L1532.0 390.1L1519.0 390.1Z" /><path d="M1533.6 440.2L1540.1 429.0L1527.1 429.0Z" /><path d="M1541.7 393.0L1548.2 381.8L1535.2 381.8Z" /><path d="M1549.9 414.3L1556.4 403.1L1543.4 403.1Z" /><path d="M1558.0 396.8L1564.5 385.6L1551.5 385.6Z" /><path d="M1566.2 381.5L1572.7 370.3L1559.7 370.3Z" /><path d="M1574.3 422.7L1580.8 411.5L1567.8 411.5Z" /><path d="M1582.5 439.5L1589.0 428.3L1576.0 428.3Z" /><path d="M1590.6 412.0L1597.1 400.8L1584.1 400.8Z" /><path d="M1598.7 437.2L1605.2 426.0L1592.2 426.0Z" /><path d="M1606.9 402.9L1613.4 391.7L1600.4 391.7Z" /><path d="M1615.0 424.2L1621.5 413.0L1608.5 413.0Z" /><path d="M1623.2 428.8L1629.7 417.6L1616.7 417.6Z" /><path d="M1631.3 419.6L1637.8 408.4L1624.8 408.4Z" /><path d="M1639.4 410.5L1645.9 399.3L1632.9 399.3Z" /><path d="M1647.6 431.8L1654.1 420.6L1641.1 420.6Z" /><path d="M1655.7 378.5L1662.2 367.3L1649.2 367.3Z" /><path d="M1663.9 377.0L1670.4 365.8L1657.4 365.8Z" /><path d="M1672.0 407.4L1678.5 396.2L1665.5 396.2Z" /><path d="M1680.2 388.4L1686.7 377.2L1673.7 377.2Z" /><path d="M1688.3 418.9L1694.8 407.7L1681.8 407.7Z" /><path d="M1696.4 371.7L1702.9 360.5L1689.9 360.5Z" /><path d="M1704.6 430.3L1711.1 419.1L1698.1 419.1Z" /><path d="M1712.7 381.5L1719.2 370.3L1706.2 370.3Z" /><path d="M1720.9 386.9L1727.4 375.7L1714.4 375.7Z" /><path d="M1729.0 374.7L1735.5 363.5L1722.5 363.5Z" /><path d="M1737.2 424.2L1743.7 413.0L1730.7 413.0Z" /><path d="M1745.3 384.6L1751.8 373.4L1738.8 373.4Z" /><path d="M1753.4 409.0L1759.9 397.8L1746.9 397.8Z" /><path d="M1761.6 386.9L1768.1 375.7L1755.1 375.7Z" /><path d="M1769.7 391.5L1776.2 380.3L1763.2 380.3Z" /><path d="M1777.9 405.9L1784.4 394.7L1771.4 394.7Z" /><path d="M1786.0 378.5L1792.5 367.3L1779.5 367.3Z" /><path d="M1794.1 374.7L1800.6 363.5L1787.6 363.5Z" /><path d="M1802.3 394.5L1808.8 383.3L1795.8 383.3Z" /><path d="M1810.4 433.4L1816.9 422.2L1803.9 422.2Z" /><path d="M1818.6 427.3L1825.1 416.1L1812.1 416.1Z" /><path d="M1826.7 372.4L1833.2 361.2L1820.2 361.2Z" /><path d="M1834.9 400.6L1841.4 389.4L1828.4 389.4Z" /><path d="M1843.0 395.3L1849.5 384.1L1836.5 384.1Z" /><path d="M1851.1 441.7L1857.6 430.5L1844.6 430.5Z" /><path d="M1859.3 433.4L1865.8 422.2L1852.8 422.2Z" /><path d="M1867.4 427.3L1873.9 416.1L1860.9 416.1Z" /><path d="M1875.6 431.8L1882.1 420.6L1869.1 420.6Z" /><path d="M1883.7 415.1L1890.2 403.9L1877.2 403.9Z" /><path d="M1891.9 431.8L1898.4 420.6L1885.4 420.6Z" /><path d="M1900.0 387.6L1906.5 376.4L1893.5 376.4Z" /><path d="M1908.1 382.3L1914.6 371.1L1901.6 371.1Z" /><path d="M1916.3 431.8L1922.8 420.6L1909.8 420.6Z" /><path d="M1924.4 436.4L1930.9 425.2L1917.9 425.2Z" /><path d="M1932.6 395.3L1939.1 384.1L1926.1 384.1Z" /><path d="M1940.7 392.2L1947.2 381.0L1934.2 381.0Z" /><path d="M1948.8 408.3L1955.3 397.1L1942.3 397.1Z" /><path d="M1957.0 400.7L1963.5 389.5L1950.5 389.5Z" /><path d="M1965.1 411.3L1971.6 400.1L1958.6 400.1Z" /><path d="M1973.3 373.2L1979.8 362.0L1966.8 362.0Z" /><path d="M1981.4 442.6L1987.9 431.4L1974.9 431.4Z" /><path d="M1989.6 427.3L1996.1 416.1L1983.1 416.1Z" /><path d="M1997.7 436.5L2004.2 425.3L1991.2 425.3Z" /><path d="M2005.8 372.5L2012.3 361.3L1999.3 361.3Z" /></g>
<path d="M226.7 1486.7L226.9 1486.5M232.4 1472.6L237.5 1447.4M248.9 1420.3L253.5 1401.2M257.1 1386.5L261.7 1367.4M264.9 1352.5L270.1 1326.7M272.6 1311.7L278.7 1266.7M280.6 1251.6L287.1 1192.4M288.7 1177.2L295.2 1120.4M296.7 1105.2L303.5 1023.4M304.5 1008.2L312.0 830.0M313.6 814.9L319.1 784.3M320.9 769.2L328.2 638.0M329.4 622.8L335.9 566.0M338.0 550.9L343.6 517.6M346.1 502.6L351.7 469.6M354.5 454.6L359.7 429.1M370.4 406.3L376.3 366.4M378.4 351.4L384.6 304.3M387.2 304.2L392.1 326.7M396.4 341.2L399.2 349.0M405.9 349.7L406.0 349.7M411.3 335.7L416.9 302.7M428.7 312.0L432.0 321.5M436.8 336.0L440.2 345.9M443.7 345.6L449.6 306.6M451.8 306.6L457.8 347.9M469.7 336.1L472.4 329.0M476.8 329.3L481.6 350.3M501.4 350.3L505.9 332.8M510.2 332.6L513.3 341.4M526.1 332.9L530.1 318.5M549.6 310.1L555.4 347.9M558.4 348.0L562.8 330.8M567.3 316.3L570.3 308.0M584.4 303.7L585.8 300.8M590.9 301.4L595.5 321.3M599.2 336.1L603.5 353.1M606.3 352.9L612.7 299.7M624.0 307.0L627.5 317.7M681.2 311.7L684.3 303.2M696.6 314.9L701.5 337.3M704.7 337.3L709.6 314.9M714.4 314.4L716.3 318.8M723.2 332.3L723.7 333.1M730.3 332.6L732.9 325.9M737.2 326.3L742.3 351.8M745.2 351.7L750.6 322.5M762.8 327.9L765.5 335.1M769.9 334.7L774.8 312.6M786.7 322.0L790.5 334.9M802.6 325.2L807.2 306.4M810.1 306.6L816.0 347.6M818.7 347.7L823.7 324.0M835.4 316.3L839.6 332.1M844.6 346.4L846.6 350.7M850.8 350.2L856.7 312.6M859.3 312.6L864.5 339.6M868.6 339.9L871.5 331.8M884.1 324.0L888.6 341.9M899.9 332.2L905.3 303.2M908.1 303.2L913.4 332.0M925.8 348.0L928.2 353.7M941.4 343.1L945.2 330.4M949.4 315.8L953.5 300.6M956.7 300.8L962.5 337.2M966.0 337.5L969.4 327.1M975.2 326.7L976.6 329.6M982.2 329.1L985.9 317.0M1015.0 320.7L1018.2 330.0M1023.6 330.1L1025.9 324.8M1039.3 330.6L1042.7 340.6M1056.6 338.0L1058.0 335.3M1064.3 321.4L1066.6 316.0M1073.4 302.4L1073.8 301.8M1096.8 315.7L1099.2 321.4M1103.8 321.0L1108.5 300.4M1113.2 299.9L1115.4 305.0M1120.7 319.2L1124.1 329.4M1129.5 329.7L1131.7 324.3M1136.0 324.8L1141.4 354.8M1144.0 354.8L1149.7 320.7M1152.2 320.7L1157.8 355.5M1160.0 355.5L1166.3 306.6M1169.5 306.3L1173.1 317.7M1177.2 332.3L1181.7 351.1M1192.6 350.9L1198.8 301.6M1200.9 301.5L1206.8 342.6M1242.2 336.6L1246.9 317.1M1250.8 317.0L1254.6 329.4M1259.5 329.6L1262.2 322.9M1266.3 323.3L1271.7 354.0M1274.1 354.0L1280.1 311.9M1290.6 317.2L1296.3 351.7M1298.5 351.7L1304.6 307.3M1307.2 307.2L1312.2 329.7M1332.5 326.8L1335.8 336.8M1339.8 336.6L1344.7 314.1M1355.8 303.5L1361.3 334.2M1364.3 334.3L1369.1 313.3M1372.6 313.3L1377.0 330.5M1382.5 344.6L1383.4 346.1M1388.1 345.3L1394.1 304.3M1398.0 303.8L1400.5 310.3M1405.3 324.7L1409.5 340.5M1412.7 340.3L1418.4 303.5M1421.4 303.4L1425.9 321.7M1429.8 321.7L1433.8 307.9M1437.3 308.0L1442.6 335.0M1454.2 335.1L1458.3 319.6M1471.3 306.8L1473.8 300.7M1480.4 300.3L1481.0 301.3M1487.0 315.1L1490.6 326.8M1496.0 341.0L1497.9 345.4M1503.6 345.2L1506.6 336.7M1511.6 322.3L1514.9 312.3M1526.6 304.0L1532.4 341.1M1535.5 341.2L1539.9 323.9M1551.5 328.3L1556.5 351.8M1558.9 351.7L1565.3 299.7M1577.3 299.9L1579.5 305.0M1593.5 309.6L1595.8 314.9M1600.7 329.2L1604.9 345.0M1616.2 344.4L1622.0 307.3M1624.1 307.3L1630.3 355.0M1632.7 355.1L1638.1 324.8M1665.9 321.7L1670.0 306.8M1673.0 307.1L1679.2 356.0M1681.0 355.9L1687.4 299.4M1697.7 303.2L1703.3 337.3M1707.6 351.7L1709.7 356.5M1715.9 356.6L1717.7 352.7M1731.4 339.0L1734.8 328.4M1740.0 314.1L1742.4 308.1M1747.5 308.3L1751.2 320.7M1763.0 324.0L1768.3 351.8M1770.8 351.7L1776.8 308.9M1780.4 308.5L1783.4 316.7M1788.9 316.9L1791.2 311.4M1803.6 308.1L1809.1 338.8M1812.6 339.0L1816.4 326.1M1820.9 326.1L1824.4 337.5M1836.1 347.2L1841.8 313.1M1845.6 312.7L1848.5 320.9M1853.4 335.3L1857.0 346.6M1860.8 346.4L1865.9 321.3M1869.6 321.1L1873.4 334.4M1876.8 334.2L1882.4 301.5M1884.7 301.6L1890.9 350.9M1892.9 350.9L1898.9 307.3M1901.3 307.3L1906.9 340.3M1909.9 340.4L1914.5 321.7M1919.4 307.3L1921.3 302.9M1927.0 303.1L1929.9 311.0M1934.8 325.3L1938.4 336.7M1942.1 336.5L1947.5 307.3M1950.1 307.3L1955.8 341.9M1985.3 352.4L1985.7 353.0M1991.5 352.2L1995.7 336.4M1999.5 336.5L2004.0 354.9" stroke="#00ffff" stroke-width="1.9" fill="none"/>
<g fill="#b078de" stroke="#9c60dc" stroke-width="0.8"><path d="M222.7 1486.5L229.4 1493.2L222.7 1499.9L216.0 1493.2Z" /><path d="M230.9 1473.3L237.6 1480.0L230.9 1486.7L224.2 1480.0Z" /><path d="M239.0 1433.2L245.7 1439.9L239.0 1446.6L232.3 1439.9Z" /><path d="M247.2 1421.0L253.9 1427.7L247.2 1434.4L240.5 1427.7Z" /><path d="M255.3 1387.1L262.0 1393.8L255.3 1400.5L248.6 1393.8Z" /><path d="M263.5 1353.3L270.2 1360.0L263.5 1366.7L256.8 1360.0Z" /><path d="M271.6 1312.5L278.3 1319.2L271.6 1325.9L264.9 1319.2Z" /><path d="M279.7 1252.5L286.4 1259.2L279.7 1265.9L273.0 1259.2Z" /><path d="M287.9 1178.1L294.6 1184.8L287.9 1191.5L281.2 1184.8Z" /><path d="M296.0 1106.1L302.7 1112.8L296.0 1119.5L289.3 1112.8Z" /><path d="M304.2 1009.1L310.9 1015.8L304.2 1022.5L297.5 1015.8Z" /><path d="M312.3 815.7L319.0 822.4L312.3 829.1L305.6 822.4Z" /><path d="M320.4 770.1L327.1 776.8L320.4 783.5L313.7 776.8Z" /><path d="M328.6 623.7L335.3 630.4L328.6 637.1L321.9 630.4Z" /><path d="M336.7 551.7L343.4 558.4L336.7 565.1L330.0 558.4Z" /><path d="M344.9 503.4L351.6 510.1L344.9 516.8L338.2 510.1Z" /><path d="M353.0 455.4L359.7 462.1L353.0 468.8L346.3 462.1Z" /><path d="M361.2 415.0L367.9 421.7L361.2 428.4L354.5 421.7Z" /><path d="M369.3 407.1L376.0 413.8L369.3 420.5L362.6 413.8Z" /><path d="M377.4 352.2L384.1 358.9L377.4 365.6L370.7 358.9Z" /><path d="M385.6 290.1L392.3 296.8L385.6 303.5L378.9 296.8Z" /><path d="M393.7 327.4L400.4 334.1L393.7 340.8L387.0 334.1Z" /><path d="M401.9 349.5L408.6 356.2L401.9 362.9L395.2 356.2Z" /><path d="M410.0 336.5L416.7 343.2L410.0 349.9L403.3 343.2Z" /><path d="M418.1 288.5L424.8 295.2L418.1 301.9L411.4 295.2Z" /><path d="M426.3 298.1L433.0 304.8L426.3 311.5L419.6 304.8Z" /><path d="M434.4 322.0L441.1 328.7L434.4 335.4L427.7 328.7Z" /><path d="M442.6 346.4L449.3 353.1L442.6 359.8L435.9 353.1Z" /><path d="M450.7 292.4L457.4 299.1L450.7 305.8L444.0 299.1Z" /><path d="M458.9 348.7L465.6 355.4L458.9 362.1L452.2 355.4Z" /><path d="M467.0 336.5L473.7 343.2L467.0 349.9L460.3 343.2Z" /><path d="M475.1 315.2L481.8 321.9L475.1 328.6L468.4 321.9Z" /><path d="M483.3 351.0L490.0 357.7L483.3 364.4L476.6 357.7Z" /><path d="M491.4 357.1L498.1 363.8L491.4 370.5L484.7 363.8Z" /><path d="M499.6 351.0L506.3 357.7L499.6 364.4L492.9 357.7Z" /><path d="M507.7 318.7L514.4 325.4L507.7 332.1L501.0 325.4Z" /><path d="M515.9 341.9L522.6 348.6L515.9 355.3L509.2 348.6Z" /><path d="M524.0 333.5L530.7 340.2L524.0 346.9L517.3 340.2Z" /><path d="M532.1 304.5L538.8 311.2L532.1 317.9L525.4 311.2Z" /><path d="M540.3 299.2L547.0 305.9L540.3 312.6L533.6 305.9Z" /><path d="M548.4 295.9L555.1 302.6L548.4 309.3L541.7 302.6Z" /><path d="M556.6 348.7L563.3 355.4L556.6 362.1L549.9 355.4Z" /><path d="M564.7 316.7L571.4 323.4L564.7 330.1L558.0 323.4Z" /><path d="M572.8 294.2L579.5 300.9L572.8 307.6L566.1 300.9Z" /><path d="M581.0 303.8L587.7 310.5L581.0 317.2L574.3 310.5Z" /><path d="M589.1 287.3L595.8 294.0L589.1 300.7L582.4 294.0Z" /><path d="M597.3 322.0L604.0 328.7L597.3 335.4L590.6 328.7Z" /><path d="M605.4 353.7L612.1 360.4L605.4 367.1L598.7 360.4Z" /><path d="M613.6 285.5L620.3 292.2L613.6 298.9L606.9 292.2Z" /><path d="M621.7 293.1L628.4 299.8L621.7 306.5L615.0 299.8Z" /><path d="M629.8 318.3L636.5 325.0L629.8 331.7L623.1 325.0Z" /><path d="M638.0 321.3L644.7 328.0L638.0 334.7L631.3 328.0Z" /><path d="M646.1 321.0L652.8 327.7L646.1 334.4L639.4 327.7Z" /><path d="M654.3 308.3L661.0 315.0L654.3 321.7L647.6 315.0Z" /><path d="M662.4 311.1L669.1 317.8L662.4 324.5L655.7 317.8Z" /><path d="M670.6 317.5L677.3 324.2L670.6 330.9L663.9 324.2Z" /><path d="M678.7 312.2L685.4 318.9L678.7 325.6L672.0 318.9Z" /><path d="M686.8 289.3L693.5 296.0L686.8 302.7L680.1 296.0Z" /><path d="M695.0 300.7L701.7 307.4L695.0 314.1L688.3 307.4Z" /><path d="M703.1 338.1L709.8 344.8L703.1 351.5L696.4 344.8Z" /><path d="M711.3 300.7L718.0 307.4L711.3 314.1L704.6 307.4Z" /><path d="M719.4 319.0L726.1 325.7L719.4 332.4L712.7 325.7Z" /><path d="M727.5 333.0L734.2 339.7L727.5 346.4L720.8 339.7Z" /><path d="M735.7 312.2L742.4 318.9L735.7 325.6L729.0 318.9Z" /><path d="M743.8 352.5L750.5 359.2L743.8 365.9L737.1 359.2Z" /><path d="M752.0 308.3L758.7 315.0L752.0 321.7L745.3 315.0Z" /><path d="M760.1 314.1L766.8 320.8L760.1 327.5L753.4 320.8Z" /><path d="M768.3 335.5L775.0 342.2L768.3 348.9L761.6 342.2Z" /><path d="M776.4 298.4L783.1 305.1L776.4 311.8L769.7 305.1Z" /><path d="M784.5 308.0L791.2 314.7L784.5 321.4L777.8 314.7Z" /><path d="M792.7 335.5L799.4 342.2L792.7 348.9L786.0 342.2Z" /><path d="M800.8 325.9L807.5 332.6L800.8 339.3L794.1 332.6Z" /><path d="M809.0 292.4L815.7 299.1L809.0 305.8L802.3 299.1Z" /><path d="M817.1 348.4L823.8 355.1L817.1 361.8L810.4 355.1Z" /><path d="M825.2 309.9L832.0 316.6L825.2 323.3L818.5 316.6Z" /><path d="M833.4 302.2L840.1 308.9L833.4 315.6L826.7 308.9Z" /><path d="M841.5 332.7L848.2 339.4L841.5 346.1L834.8 339.4Z" /><path d="M849.7 351.0L856.4 357.7L849.7 364.4L843.0 357.7Z" /><path d="M857.8 298.4L864.5 305.1L857.8 311.8L851.1 305.1Z" /><path d="M866.0 340.3L872.7 347.0L866.0 353.7L859.3 347.0Z" /><path d="M874.1 317.9L880.8 324.6L874.1 331.3L867.4 324.6Z" /><path d="M882.2 309.9L888.9 316.6L882.2 323.3L875.5 316.6Z" /><path d="M890.4 342.6L897.1 349.3L890.4 356.0L883.7 349.3Z" /><path d="M898.5 333.0L905.2 339.7L898.5 346.4L891.8 339.7Z" /><path d="M906.7 289.0L913.4 295.7L906.7 302.4L900.0 295.7Z" /><path d="M914.8 332.7L921.5 339.4L914.8 346.1L908.1 339.4Z" /><path d="M923.0 334.2L929.7 340.9L923.0 347.6L916.3 340.9Z" /><path d="M931.1 354.0L937.8 360.7L931.1 367.4L924.4 360.7Z" /><path d="M939.2 343.7L945.9 350.4L939.2 357.1L932.5 350.4Z" /><path d="M947.4 316.4L954.1 323.1L947.4 329.8L940.7 323.1Z" /><path d="M955.5 286.5L962.2 293.2L955.5 299.9L948.8 293.2Z" /><path d="M963.7 338.1L970.4 344.8L963.7 351.5L957.0 344.8Z" /><path d="M971.8 313.2L978.5 319.9L971.8 326.6L965.1 319.9Z" /><path d="M979.9 329.7L986.6 336.4L979.9 343.1L973.2 336.4Z" /><path d="M988.1 303.0L994.8 309.7L988.1 316.4L981.4 309.7Z" /><path d="M996.2 295.9L1002.9 302.6L996.2 309.3L989.5 302.6Z" /><path d="M1004.4 295.9L1011.1 302.6L1004.4 309.3L997.7 302.6Z" /><path d="M1012.5 306.8L1019.2 313.5L1012.5 320.2L1005.8 313.5Z" /><path d="M1020.7 330.4L1027.4 337.1L1020.7 343.8L1014.0 337.1Z" /><path d="M1028.8 311.1L1035.5 317.8L1028.8 324.5L1022.1 317.8Z" /><path d="M1036.9 316.7L1043.6 323.4L1036.9 330.1L1030.2 323.4Z" /><path d="M1045.1 341.1L1051.8 347.8L1045.1 354.5L1038.4 347.8Z" /><path d="M1053.2 338.1L1059.9 344.8L1053.2 351.5L1046.5 344.8Z" /><path d="M1061.4 321.8L1068.1 328.5L1061.4 335.2L1054.7 328.5Z" /><path d="M1069.5 302.2L1076.2 308.9L1069.5 315.6L1062.8 308.9Z" /><path d="M1077.7 288.5L1084.4 295.2L1077.7 301.9L1071.0 295.2Z" /><path d="M1085.8 297.7L1092.5 304.4L1085.8 311.1L1079.1 304.4Z" /><path d="M1093.9 301.9L1100.6 308.6L1093.9 315.3L1087.2 308.6Z" /><path d="M1102.1 321.8L1108.8 328.5L1102.1 335.2L1095.4 328.5Z" /><path d="M1110.2 286.3L1116.9 293.0L1110.2 299.7L1103.5 293.0Z" /><path d="M1118.4 305.3L1125.1 312.0L1118.4 318.7L1111.7 312.0Z" /><path d="M1126.5 330.0L1133.2 336.7L1126.5 343.4L1119.8 336.7Z" /><path d="M1134.6 310.6L1141.3 317.3L1134.6 324.0L1127.9 317.3Z" /><path d="M1142.8 355.6L1149.5 362.3L1142.8 369.0L1136.1 362.3Z" /><path d="M1150.9 306.5L1157.6 313.2L1150.9 319.9L1144.2 313.2Z" /><path d="M1159.1 356.3L1165.8 363.0L1159.1 369.7L1152.4 363.0Z" /><path d="M1167.2 292.4L1173.9 299.1L1167.2 305.8L1160.5 299.1Z" /><path d="M1175.4 318.3L1182.1 325.0L1175.4 331.7L1168.7 325.0Z" /><path d="M1183.5 351.8L1190.2 358.5L1183.5 365.2L1176.8 358.5Z" /><path d="M1191.6 351.8L1198.3 358.5L1191.6 365.2L1184.9 358.5Z" /><path d="M1199.8 287.3L1206.5 294.0L1199.8 300.7L1193.1 294.0Z" /><path d="M1207.9 343.4L1214.6 350.1L1207.9 356.8L1201.2 350.1Z" /><path d="M1216.1 339.6L1222.8 346.3L1216.1 353.0L1209.4 346.3Z" /><path d="M1224.2 338.8L1230.9 345.5L1224.2 352.2L1217.5 345.5Z" /><path d="M1232.3 341.9L1239.0 348.6L1232.3 355.3L1225.6 348.6Z" /><path d="M1240.5 337.3L1247.2 344.0L1240.5 350.7L1233.8 344.0Z" /><path d="M1248.6 303.0L1255.3 309.7L1248.6 316.4L1241.9 309.7Z" /><path d="M1256.8 330.0L1263.5 336.7L1256.8 343.4L1250.1 336.7Z" /><path d="M1264.9 309.1L1271.6 315.8L1264.9 322.5L1258.2 315.8Z" /><path d="M1273.1 354.8L1279.8 361.5L1273.1 368.2L1266.4 361.5Z" /><path d="M1281.2 297.7L1287.9 304.4L1281.2 311.1L1274.5 304.4Z" /><path d="M1289.3 303.0L1296.0 309.7L1289.3 316.4L1282.6 309.7Z" /><path d="M1297.5 352.5L1304.2 359.2L1297.5 365.9L1290.8 359.2Z" /><path d="M1305.6 293.1L1312.3 299.8L1305.6 306.5L1298.9 299.8Z" /><path d="M1313.8 330.4L1320.5 337.1L1313.8 343.8L1307.1 337.1Z" /><path d="M1321.9 318.3L1328.6 325.0L1321.9 331.7L1315.2 325.0Z" /><path d="M1330.1 312.9L1336.8 319.6L1330.1 326.3L1323.4 319.6Z" /><path d="M1338.2 337.3L1344.9 344.0L1338.2 350.7L1331.5 344.0Z" /><path d="M1346.3 300.0L1353.0 306.7L1346.3 313.4L1339.6 306.7Z" /><path d="M1354.5 289.3L1361.2 296.0L1354.5 302.7L1347.8 296.0Z" /><path d="M1362.6 335.0L1369.3 341.7L1362.6 348.4L1355.9 341.7Z" /><path d="M1370.8 299.2L1377.5 305.9L1370.8 312.6L1364.1 305.9Z" /><path d="M1378.9 331.2L1385.6 337.9L1378.9 344.6L1372.2 337.9Z" /><path d="M1387.0 346.1L1393.7 352.8L1387.0 359.5L1380.3 352.8Z" /><path d="M1395.2 290.1L1401.9 296.8L1395.2 303.5L1388.5 296.8Z" /><path d="M1403.3 310.6L1410.0 317.3L1403.3 324.0L1396.6 317.3Z" /><path d="M1411.5 341.1L1418.2 347.8L1411.5 354.5L1404.8 347.8Z" /><path d="M1419.6 289.3L1426.3 296.0L1419.6 302.7L1412.9 296.0Z" /><path d="M1427.8 322.4L1434.5 329.1L1427.8 335.8L1421.1 329.1Z" /><path d="M1435.9 293.9L1442.6 300.6L1435.9 307.3L1429.2 300.6Z" /><path d="M1444.0 335.8L1450.7 342.5L1444.0 349.2L1437.3 342.5Z" /><path d="M1452.2 335.8L1458.9 342.5L1452.2 349.2L1445.5 342.5Z" /><path d="M1460.3 305.6L1467.0 312.3L1460.3 319.0L1453.6 312.3Z" /><path d="M1468.5 307.1L1475.2 313.8L1468.5 320.5L1461.8 313.8Z" /><path d="M1476.6 287.0L1483.3 293.7L1476.6 300.4L1469.9 293.7Z" /><path d="M1484.8 301.2L1491.5 307.9L1484.8 314.6L1478.1 307.9Z" /><path d="M1492.9 327.4L1499.6 334.1L1492.9 340.8L1486.2 334.1Z" /><path d="M1501.0 345.7L1507.7 352.4L1501.0 359.1L1494.3 352.4Z" /><path d="M1509.2 322.8L1515.9 329.5L1509.2 336.2L1502.5 329.5Z" /><path d="M1517.3 298.4L1524.0 305.1L1517.3 311.8L1510.6 305.1Z" /><path d="M1525.5 289.8L1532.2 296.5L1525.5 303.2L1518.8 296.5Z" /><path d="M1533.6 341.9L1540.3 348.6L1533.6 355.3L1526.9 348.6Z" /><path d="M1541.7 309.9L1548.4 316.6L1541.7 323.3L1535.0 316.6Z" /><path d="M1549.9 314.1L1556.6 320.8L1549.9 327.5L1543.2 320.8Z" /><path d="M1558.0 352.5L1564.7 359.2L1558.0 365.9L1551.3 359.2Z" /><path d="M1566.2 285.5L1572.9 292.2L1566.2 298.9L1559.5 292.2Z" /><path d="M1574.3 286.3L1581.0 293.0L1574.3 299.7L1567.6 293.0Z" /><path d="M1582.5 305.3L1589.2 312.0L1582.5 318.7L1575.8 312.0Z" /><path d="M1590.6 295.9L1597.3 302.6L1590.6 309.3L1583.9 302.6Z" /><path d="M1598.7 315.2L1605.4 321.9L1598.7 328.6L1592.0 321.9Z" /><path d="M1606.9 345.7L1613.6 352.4L1606.9 359.1L1600.2 352.4Z" /><path d="M1615.0 345.2L1621.7 351.9L1615.0 358.6L1608.3 351.9Z" /><path d="M1623.2 293.1L1629.9 299.8L1623.2 306.5L1616.5 299.8Z" /><path d="M1631.3 355.9L1638.0 362.6L1631.3 369.3L1624.6 362.6Z" /><path d="M1639.4 310.6L1646.1 317.3L1639.4 324.0L1632.7 317.3Z" /><path d="M1647.6 312.2L1654.3 318.9L1647.6 325.6L1640.9 318.9Z" /><path d="M1655.7 322.8L1662.4 329.5L1655.7 336.2L1649.0 329.5Z" /><path d="M1663.9 322.4L1670.6 329.1L1663.9 335.8L1657.2 329.1Z" /><path d="M1672.0 292.8L1678.7 299.5L1672.0 306.2L1665.3 299.5Z" /><path d="M1680.2 356.8L1686.9 363.5L1680.2 370.2L1673.5 363.5Z" /><path d="M1688.3 285.2L1695.0 291.9L1688.3 298.6L1681.6 291.9Z" /><path d="M1696.4 289.0L1703.1 295.7L1696.4 302.4L1689.7 295.7Z" /><path d="M1704.6 338.1L1711.3 344.8L1704.6 351.5L1697.9 344.8Z" /><path d="M1712.7 356.8L1719.4 363.5L1712.7 370.2L1706.0 363.5Z" /><path d="M1720.9 339.1L1727.6 345.8L1720.9 352.5L1714.2 345.8Z" /><path d="M1729.0 339.6L1735.7 346.3L1729.0 353.0L1722.3 346.3Z" /><path d="M1737.2 314.4L1743.9 321.1L1737.2 327.8L1730.5 321.1Z" /><path d="M1745.3 294.3L1752.0 301.0L1745.3 307.7L1738.6 301.0Z" /><path d="M1753.4 321.3L1760.1 328.0L1753.4 334.7L1746.7 328.0Z" /><path d="M1761.6 309.9L1768.3 316.6L1761.6 323.3L1754.9 316.6Z" /><path d="M1769.7 352.5L1776.4 359.2L1769.7 365.9L1763.0 359.2Z" /><path d="M1777.9 294.6L1784.6 301.3L1777.9 308.0L1771.2 301.3Z" /><path d="M1786.0 317.2L1792.7 323.9L1786.0 330.6L1779.3 323.9Z" /><path d="M1794.1 297.7L1800.8 304.4L1794.1 311.1L1787.4 304.4Z" /><path d="M1802.3 293.9L1809.0 300.6L1802.3 307.3L1795.6 300.6Z" /><path d="M1810.4 339.6L1817.1 346.3L1810.4 353.0L1803.7 346.3Z" /><path d="M1818.6 312.2L1825.3 318.9L1818.6 325.6L1811.9 318.9Z" /><path d="M1826.7 338.1L1833.4 344.8L1826.7 351.5L1820.0 344.8Z" /><path d="M1834.9 348.0L1841.6 354.7L1834.9 361.4L1828.2 354.7Z" /><path d="M1843.0 298.9L1849.7 305.6L1843.0 312.3L1836.3 305.6Z" /><path d="M1851.1 321.3L1857.8 328.0L1851.1 334.7L1844.4 328.0Z" /><path d="M1859.3 347.2L1866.0 353.9L1859.3 360.6L1852.6 353.9Z" /><path d="M1867.4 307.1L1874.1 313.8L1867.4 320.5L1860.7 313.8Z" /><path d="M1875.6 335.0L1882.3 341.7L1875.6 348.4L1868.9 341.7Z" /><path d="M1883.7 287.3L1890.4 294.0L1883.7 300.7L1877.0 294.0Z" /><path d="M1891.9 351.8L1898.6 358.5L1891.9 365.2L1885.2 358.5Z" /><path d="M1900.0 293.1L1906.7 299.8L1900.0 306.5L1893.3 299.8Z" /><path d="M1908.1 341.1L1914.8 347.8L1908.1 354.5L1901.4 347.8Z" /><path d="M1916.3 307.6L1923.0 314.3L1916.3 321.0L1909.6 314.3Z" /><path d="M1924.4 289.3L1931.1 296.0L1924.4 302.7L1917.7 296.0Z" /><path d="M1932.6 311.4L1939.3 318.1L1932.6 324.8L1925.9 318.1Z" /><path d="M1940.7 337.3L1947.4 344.0L1940.7 350.7L1934.0 344.0Z" /><path d="M1948.8 293.1L1955.5 299.8L1948.8 306.5L1942.1 299.8Z" /><path d="M1957.0 342.7L1963.7 349.4L1957.0 356.1L1950.3 349.4Z" /><path d="M1965.1 343.4L1971.8 350.1L1965.1 356.8L1958.4 350.1Z" /><path d="M1973.3 347.2L1980.0 353.9L1973.3 360.6L1966.6 353.9Z" /><path d="M1981.4 339.2L1988.1 345.9L1981.4 352.6L1974.7 345.9Z" /><path d="M1989.6 352.9L1996.3 359.6L1989.6 366.3L1982.9 359.6Z" /><path d="M1997.7 322.4L2004.4 329.1L1997.7 335.8L1991.0 329.1Z" /><path d="M2005.8 355.6L2012.5 362.3L2005.8 369.0L1999.1 362.3Z" /></g>
</g>
<g font-family="Liberation Serif, serif" font-size="62" fill="#000"><text transform="translate(214.6 1576.3) scale(0.97 1)" text-anchor="middle">0</text><text transform="translate(621.7 1576.3) scale(0.97 1)" text-anchor="middle">50</text><text transform="translate(1028.8 1576.3) scale(0.97 1)" text-anchor="middle">100</text><text transform="translate(1435.9 1576.3) scale(0.97 1)" text-anchor="middle">150</text><text transform="translate(1843.0 1576.3) scale(0.97 1)" text-anchor="middle">200</text><text transform="translate(182.8 1517.8) scale(0.955 1)" text-anchor="end" font-size="63.5">0</text><text transform="translate(182.8 1277.8) scale(0.955 1)" text-anchor="end" font-size="63.5">10</text><text transform="translate(182.8 1037.8) scale(0.955 1)" text-anchor="end" font-size="63.5">20</text><text transform="translate(182.8 797.8) scale(0.955 1)" text-anchor="end" font-size="63.5">30</text><text transform="translate(182.8 557.8) scale(0.955 1)" text-anchor="end" font-size="63.5">40</text><text transform="translate(182.8 317.8) scale(0.955 1)" text-anchor="end" font-size="63.5">50</text><text transform="translate(182.8 77.8) scale(0.955 1)" text-anchor="end" font-size="63.5">60</text></g>
<g font-family="'Liberation Serif','Noto Serif CJK SC',serif" fill="#000">
<text transform="scale(0.82 1)" x="1215.02 1271.86 1300.30 1360.84 1411.25 1452.82" y="1677" font-size="77" >Time/s</text>
<g transform="translate(94.6 1037.2) rotate(-90)"><text transform="scale(0.8 1)" x="0.05 49.85 87.87 149.44 194.97 246.37 289.22 342.74 381.31 434.87 477.72 531.24" y="0" font-size="77">Temperature/</text><text x="454.5" y="0" font-size="69">℃</text></g>
</g>
<rect x="997" y="804.5" width="968.6" height="384.3" fill="none" stroke="#000" stroke-width="1.7"/><path d="M1007 847.4H1143.7" stroke="#000000" stroke-width="1.3"/><rect x="1070.6" y="842.5" width="9.8" height="9.8"  fill="#545454" stroke="#3c3c3c" stroke-width="0.8"/><g font-family="'Liberation Serif','Noto Serif CJK SC',serif" fill="#000"><text transform="scale(0.9 1)" x="1314.23 1346.33 1384.11 1421.89 1467.22 1505.94 1538.99 1573.00 1612.69 1650.46 1686.33 1732.61 1769.44 1803.44 1845.94 1875.22 1913.00 1950.78 1994.23 2031.11 2054.66 2112.22 2139.67" y="871.1" font-size="68" >Input speed is 500r/min</text></g><path d="M1007 922.0H1143.7" stroke="#ff0000" stroke-width="1.3"/><circle cx="1075.5" cy="922.0" r="5.03"  fill="#ee4040" stroke="#ea2a2a" stroke-width="0.8"/><g font-family="'Liberation Serif','Noto Serif CJK SC',serif" fill="#000"><text transform="scale(0.9 1)" x="1314.23 1346.33 1384.11 1421.89 1467.22 1505.94 1538.99 1573.00 1612.69 1650.46 1686.33 1732.61 1769.44 1803.44 1845.94 1875.22 1913.00 1950.78 1994.23 2031.11 2054.66 2112.22 2139.67" y="945.8" font-size="68" >Input speed is 300r/min</text></g><path d="M1007 996.7H1143.7" stroke="#00ff00" stroke-width="1.9"/><path d="M1075.5 989.1L1082.1 1000.5L1068.9 1000.5Z"  fill="#1e6fdc" stroke="#0f5fd6" stroke-width="0.8"/><g font-family="'Liberation Serif','Noto Serif CJK SC',serif" fill="#000"><text transform="scale(0.9 1)" x="1314.23 1346.33 1384.11 1421.89 1467.22 1505.94 1538.99 1573.00 1612.69 1650.46 1686.33 1732.61 1769.44 1803.44 1845.94 1875.22 1913.00 1950.78 1994.23 2031.11 2054.66 2112.22 2139.67" y="1020.4" font-size="68" >Input speed is 400r/min</text></g><path d="M1007 1071.3H1143.7" stroke="#0000ff" stroke-width="1.3"/><path d="M1075.5 1078.8L1082.0 1067.6L1069.0 1067.6Z"  fill="#37aa68" stroke="#1f9a55" stroke-width="0.8"/><g font-family="'Liberation Serif','Noto Serif CJK SC',serif" fill="#000"><text transform="scale(0.9 1)" x="1314.23 1346.33 1384.11 1421.89 1467.22 1505.94 1538.99 1573.00 1612.69 1650.46 1686.33 1732.61 1769.44 1803.44 1845.94 1875.22 1913.00 1950.78 1994.23 2031.11 2054.66 2112.22 2139.67" y="1095.0" font-size="68" >Input speed is 600r/min</text></g><path d="M1007 1146.0H1143.7" stroke="#00ffff" stroke-width="1.9"/><path d="M1075.5 1139.3L1082.2 1146.0L1075.5 1152.7L1068.8 1146.0Z"  fill="#b078de" stroke="#9c60dc" stroke-width="0.8"/><g font-family="'Liberation Serif','Noto Serif CJK SC',serif" fill="#000"><text transform="scale(0.9 1)" x="1314.23 1346.33 1384.11 1421.89 1467.22 1505.94 1538.99 1573.00 1612.69 1650.46 1686.33 1732.61 1769.44 1803.44 1845.94 1875.22 1913.00 1950.78 1994.23 2031.11 2054.66 2112.22 2139.67" y="1169.7" font-size="68" >Input speed is 700r/min</text></g></svg>
</body></html>
